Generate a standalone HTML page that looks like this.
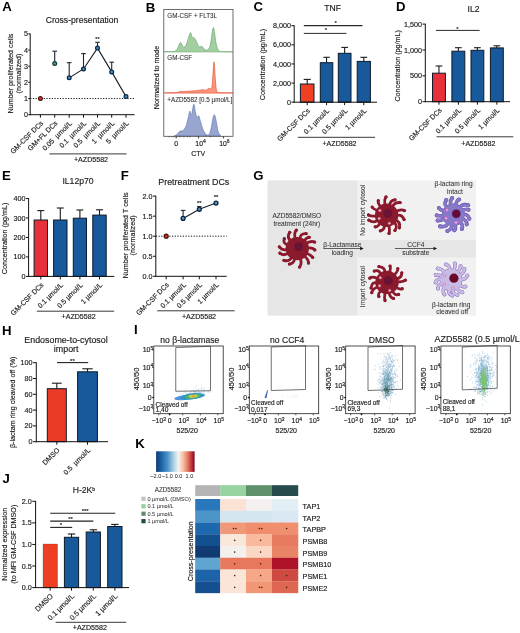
<!DOCTYPE html>
<html lang="en"><head><meta charset="utf-8"><title>Figure</title>
<style>
html,body{margin:0;padding:0;background:#fff;}
body{width:520px;height:633px;overflow:hidden;}
svg{display:block;font-family:"Liberation Sans",sans-serif;}
text{stroke:#1c1c1c;stroke-width:0.16px;paint-order:stroke;}
text[font-weight="bold"]{stroke:none;}
text.lt{stroke-width:0.06px;}
</style></head><body>
<svg width="520" height="633" viewBox="0 0 520 633">
<rect width="520" height="633" fill="#ffffff"/>
<g id="panelA">
<text x="2.20" y="11.20" font-size="13.2" text-anchor="start" font-weight="bold" fill="#000">A</text>
<text x="82.00" y="23.00" font-size="8.6" text-anchor="middle" fill="#1c1c1c">Cross-presentation</text>
<line x1="30.20" y1="33.50" x2="30.20" y2="115.15" stroke="#111" stroke-width="1.0"/>
<line x1="29.75" y1="114.70" x2="134.60" y2="114.70" stroke="#111" stroke-width="1.0"/>
<line x1="28.30" y1="114.70" x2="30.20" y2="114.70" stroke="#111" stroke-width="1.0"/>
<text x="28.10" y="117.25" font-size="7.2" text-anchor="end" fill="#1c1c1c">0</text>
<line x1="28.30" y1="98.54" x2="30.20" y2="98.54" stroke="#111" stroke-width="1.0"/>
<text x="28.10" y="101.09" font-size="7.2" text-anchor="end" fill="#1c1c1c">1</text>
<line x1="28.30" y1="82.38" x2="30.20" y2="82.38" stroke="#111" stroke-width="1.0"/>
<text x="28.10" y="84.93" font-size="7.2" text-anchor="end" fill="#1c1c1c">2</text>
<line x1="28.30" y1="66.22" x2="30.20" y2="66.22" stroke="#111" stroke-width="1.0"/>
<text x="28.10" y="68.77" font-size="7.2" text-anchor="end" fill="#1c1c1c">3</text>
<line x1="28.30" y1="50.06" x2="30.20" y2="50.06" stroke="#111" stroke-width="1.0"/>
<text x="28.10" y="52.61" font-size="7.2" text-anchor="end" fill="#1c1c1c">4</text>
<line x1="28.30" y1="33.90" x2="30.20" y2="33.90" stroke="#111" stroke-width="1.0"/>
<text x="28.10" y="36.45" font-size="7.2" text-anchor="end" fill="#1c1c1c">5</text>
<line x1="40.40" y1="114.70" x2="40.40" y2="117.70" stroke="#111" stroke-width="1.0"/>
<line x1="54.70" y1="114.70" x2="54.70" y2="117.70" stroke="#111" stroke-width="1.0"/>
<line x1="69.20" y1="114.70" x2="69.20" y2="117.70" stroke="#111" stroke-width="1.0"/>
<line x1="83.50" y1="114.70" x2="83.50" y2="117.70" stroke="#111" stroke-width="1.0"/>
<line x1="97.50" y1="114.70" x2="97.50" y2="117.70" stroke="#111" stroke-width="1.0"/>
<line x1="111.70" y1="114.70" x2="111.70" y2="117.70" stroke="#111" stroke-width="1.0"/>
<line x1="126.00" y1="114.70" x2="126.00" y2="117.70" stroke="#111" stroke-width="1.0"/>
<line x1="30.20" y1="98.54" x2="134.60" y2="98.54" stroke="#111" stroke-width="1.0" stroke-dasharray="1.2 1.5"/>
<line x1="54.70" y1="63.47" x2="54.70" y2="51.19" stroke="#1b2733" stroke-width="1.1"/>
<line x1="52.40" y1="51.19" x2="57.00" y2="51.19" stroke="#1b2733" stroke-width="1.1"/>
<line x1="69.20" y1="77.86" x2="69.20" y2="62.66" stroke="#1b2733" stroke-width="1.1"/>
<line x1="66.90" y1="62.66" x2="71.50" y2="62.66" stroke="#1b2733" stroke-width="1.1"/>
<line x1="83.50" y1="68.97" x2="83.50" y2="53.62" stroke="#1b2733" stroke-width="1.1"/>
<line x1="81.20" y1="53.62" x2="85.80" y2="53.62" stroke="#1b2733" stroke-width="1.1"/>
<line x1="97.50" y1="48.12" x2="97.50" y2="42.30" stroke="#1b2733" stroke-width="1.1"/>
<line x1="95.20" y1="42.30" x2="99.80" y2="42.30" stroke="#1b2733" stroke-width="1.1"/>
<line x1="111.70" y1="71.88" x2="111.70" y2="62.18" stroke="#1b2733" stroke-width="1.1"/>
<line x1="109.40" y1="62.18" x2="114.00" y2="62.18" stroke="#1b2733" stroke-width="1.1"/>
<polyline points="69.20,77.86 83.50,68.97 97.50,48.12 111.70,71.88 126.00,96.60" fill="none" stroke="#15202b" stroke-width="1.1"/>
<circle cx="40.40" cy="98.54" r="1.9" fill="#d8392b" stroke="#4a0f10" stroke-width="1.2"/>
<circle cx="54.70" cy="63.47" r="1.9" fill="#4aa888" stroke="#0f3a30" stroke-width="1.2"/>
<circle cx="69.20" cy="77.86" r="1.9" fill="#3a8fd0" stroke="#0c2238" stroke-width="1.2"/>
<circle cx="83.50" cy="68.97" r="1.9" fill="#3a8fd0" stroke="#0c2238" stroke-width="1.2"/>
<circle cx="97.50" cy="48.12" r="1.9" fill="#3a8fd0" stroke="#0c2238" stroke-width="1.2"/>
<circle cx="111.70" cy="71.88" r="1.9" fill="#3a8fd0" stroke="#0c2238" stroke-width="1.2"/>
<circle cx="126.00" cy="96.60" r="1.9" fill="#3a8fd0" stroke="#0c2238" stroke-width="1.2"/>
<text x="97.50" y="41.12" font-size="5.5" text-anchor="middle" fill="#1c1c1c">**</text>
<text x="43.70" y="123.70" font-size="7.0" text-anchor="end" fill="#1c1c1c" transform="rotate(-45 43.70 123.70)">GM-CSF DCs</text>
<text x="58.00" y="123.70" font-size="7.0" text-anchor="end" fill="#1c1c1c" transform="rotate(-45 58.00 123.70)">GM+FL DCs</text>
<text x="72.50" y="123.70" font-size="7.0" text-anchor="end" fill="#1c1c1c" transform="rotate(-45 72.50 123.70)">0.05  µmol/L</text>
<text x="86.80" y="123.70" font-size="7.0" text-anchor="end" fill="#1c1c1c" transform="rotate(-45 86.80 123.70)">0.1  µmol/L</text>
<text x="100.80" y="123.70" font-size="7.0" text-anchor="end" fill="#1c1c1c" transform="rotate(-45 100.80 123.70)">0.5  µmol/L</text>
<text x="115.00" y="123.70" font-size="7.0" text-anchor="end" fill="#1c1c1c" transform="rotate(-45 115.00 123.70)">1  µmol/L</text>
<text x="129.30" y="123.70" font-size="7.0" text-anchor="end" fill="#1c1c1c" transform="rotate(-45 129.30 123.70)">5  µmol/L</text>
<text x="13.00" y="73.50" font-size="7.2" text-anchor="middle" fill="#1c1c1c" transform="rotate(-90 13.00 73.50)">Number proliferated cells</text>
<text x="20.60" y="73.50" font-size="7.2" text-anchor="middle" fill="#1c1c1c" transform="rotate(-90 20.60 73.50)">(normalized)</text>
<line x1="49.40" y1="153.90" x2="126.60" y2="153.90" stroke="#222" stroke-width="0.9"/>
<text x="91.00" y="162.20" font-size="7.1" text-anchor="middle" fill="#1c1c1c">+AZD5582</text>
</g>
<g id="panelB">
<text x="145.70" y="11.50" font-size="13.2" text-anchor="start" font-weight="bold" fill="#000">B</text>
<path d="M164.50,51.80 L164.50,51.60 C166.08,51.57 171.92,51.75 174.00,51.40 C176.08,51.05 175.93,50.97 177.00,49.50 C178.07,48.03 179.32,42.98 180.40,42.60 C181.48,42.22 182.48,46.97 183.50,47.20 C184.52,47.43 185.37,46.40 186.50,44.00 C187.63,41.60 189.33,33.88 190.30,32.80 C191.27,31.72 191.65,36.67 192.30,37.50 C192.95,38.33 193.50,37.13 194.20,37.80 C194.90,38.47 195.70,40.00 196.50,41.50 C197.30,43.00 198.12,45.98 199.00,46.80 C199.88,47.62 200.88,46.00 201.80,46.40 C202.72,46.80 203.55,48.60 204.50,49.20 C205.45,49.80 206.53,50.70 207.50,50.00 C208.47,49.30 209.32,48.73 210.30,45.00 C211.28,41.27 212.42,27.77 213.40,27.60 C214.38,27.43 215.30,40.17 216.20,44.00 C217.10,47.83 217.67,49.33 218.80,50.60 C219.93,51.80 220.67,51.42 223.00,51.60 C225.33,51.78 231.17,51.68 232.80,51.70 L232.80,51.80 Z" fill="#a3cfa0" stroke="#5f9f68" stroke-width="0.6"/>
<path d="M164.50,93.00 L164.50,92.80 C166.42,92.77 173.42,92.80 176.00,92.60 C178.58,92.40 178.33,91.80 180.00,91.60 C181.67,91.40 184.00,91.50 186.00,91.40 C188.00,91.30 190.00,91.17 192.00,91.00 C194.00,90.83 196.17,90.60 198.00,90.40 C199.83,90.20 201.67,89.83 203.00,89.80 C204.33,89.77 205.00,90.47 206.00,90.20 C207.00,89.93 208.08,88.47 209.00,88.20 C209.92,87.93 210.90,89.97 211.50,88.60 C212.10,87.23 212.18,84.47 212.60,80.00 C213.02,75.53 213.53,61.80 214.00,61.80 C214.47,61.80 214.97,75.22 215.40,80.00 C215.83,84.78 216.00,88.40 216.60,90.50 C217.20,92.60 216.30,92.22 219.00,92.60 C221.70,92.98 230.50,92.77 232.80,92.80 L232.80,93.00 Z" fill="#f7977a" stroke="#e8452f" stroke-width="0.6"/>
<path d="M174.50,136.00 L174.50,135.80 C174.92,135.60 176.17,135.32 177.00,134.60 C177.83,133.88 178.50,132.17 179.50,131.50 C180.50,130.83 181.92,131.52 183.00,130.60 C184.08,129.68 185.13,128.10 186.00,126.00 C186.87,123.90 187.57,120.47 188.20,118.00 C188.83,115.53 189.23,111.78 189.80,111.20 C190.37,110.62 190.93,115.67 191.60,114.50 C192.27,113.33 193.13,104.45 193.80,104.20 C194.47,103.95 195.03,110.80 195.60,113.00 C196.17,115.20 196.67,116.93 197.20,117.40 C197.73,117.87 198.23,115.03 198.80,115.80 C199.37,116.57 199.90,119.72 200.60,122.00 C201.30,124.28 202.10,127.47 203.00,129.50 C203.90,131.53 205.00,133.35 206.00,134.20 C207.00,135.05 208.13,135.63 209.00,134.60 C209.87,133.57 210.53,130.77 211.20,128.00 C211.87,125.23 212.47,120.20 213.00,118.00 C213.53,115.80 213.90,114.47 214.40,114.80 C214.90,115.13 215.40,117.30 216.00,120.00 C216.60,122.70 217.25,128.40 218.00,131.00 C218.75,133.60 220.08,134.83 220.50,135.60 L220.50,136.00 Z" fill="#97a5cf" stroke="#5c70b0" stroke-width="0.6"/>
<line x1="163.80" y1="51.80" x2="233.00" y2="51.80" stroke="#9ac89a" stroke-width="0.6"/>
<line x1="163.80" y1="93.00" x2="233.00" y2="93.00" stroke="#f0907a" stroke-width="0.6"/>
<rect x="163.80" y="9.50" width="69.20" height="126.80" fill="none" stroke="#4a4a4a" stroke-width="0.8"/>
<text x="167.30" y="18.00" font-size="6.3" text-anchor="start" fill="#2a2a2a" class="lt">GM-CSF + FLT3L</text>
<text x="167.30" y="60.20" font-size="6.3" text-anchor="start" fill="#2a2a2a" class="lt">GM-CSF</text>
<text x="167.30" y="102.40" font-size="6.3" text-anchor="start" fill="#2a2a2a" class="lt">+AZD5582 [0.5 µmol/L]</text>
<line x1="176.20" y1="136.30" x2="176.20" y2="138.50" stroke="#111" stroke-width="0.8"/>
<line x1="198.60" y1="136.30" x2="198.60" y2="138.50" stroke="#111" stroke-width="0.8"/>
<line x1="223.40" y1="136.30" x2="223.40" y2="138.50" stroke="#111" stroke-width="0.8"/>
<line x1="169.00" y1="136.30" x2="169.00" y2="137.40" stroke="#111" stroke-width="0.5"/>
<line x1="172.00" y1="136.30" x2="172.00" y2="137.40" stroke="#111" stroke-width="0.5"/>
<line x1="174.00" y1="136.30" x2="174.00" y2="137.40" stroke="#111" stroke-width="0.5"/>
<line x1="180.00" y1="136.30" x2="180.00" y2="137.40" stroke="#111" stroke-width="0.5"/>
<line x1="184.00" y1="136.30" x2="184.00" y2="137.40" stroke="#111" stroke-width="0.5"/>
<line x1="187.50" y1="136.30" x2="187.50" y2="137.40" stroke="#111" stroke-width="0.5"/>
<line x1="190.00" y1="136.30" x2="190.00" y2="137.40" stroke="#111" stroke-width="0.5"/>
<line x1="210.50" y1="136.30" x2="210.50" y2="137.40" stroke="#111" stroke-width="0.5"/>
<text x="176.20" y="145.80" font-size="6.9" text-anchor="middle" fill="#1c1c1c">0</text>
<text x="200.6" y="145.8" font-size="6.9" text-anchor="middle" fill="#1c1c1c">10<tspan dy="-2.7" font-size="5.0">4</tspan></text>
<text x="224.4" y="145.8" font-size="6.9" text-anchor="middle" fill="#1c1c1c">10<tspan dy="-2.7" font-size="5.0">6</tspan></text>
<text x="198.20" y="156.00" font-size="7.0" text-anchor="middle" fill="#1c1c1c">CTV</text>
<text x="159.40" y="77.50" font-size="7.1" text-anchor="middle" fill="#1c1c1c" transform="rotate(-90 159.40 77.50)">Normalized to mode</text>
</g>
<g id="panelC">
<text x="253.60" y="11.00" font-size="13.2" text-anchor="start" font-weight="bold" fill="#000">C</text>
<text x="332.60" y="11.30" font-size="8.6" text-anchor="middle" fill="#1c1c1c">TNF</text>
<line x1="307.20" y1="84.00" x2="307.20" y2="79.40" stroke="#1a1a1a" stroke-width="1.1"/>
<line x1="303.66" y1="79.40" x2="310.74" y2="79.40" stroke="#1a1a1a" stroke-width="1.1"/>
<rect x="300.40" y="84.00" width="13.60" height="18.20" fill="#ef4023" stroke="#0c1a2a" stroke-width="1.0"/>
<line x1="326.55" y1="62.70" x2="326.55" y2="57.30" stroke="#1a1a1a" stroke-width="1.1"/>
<line x1="323.30" y1="57.30" x2="329.80" y2="57.30" stroke="#1a1a1a" stroke-width="1.1"/>
<rect x="320.30" y="62.70" width="12.50" height="39.50" fill="#17599b" stroke="#0c1a2a" stroke-width="1.0"/>
<line x1="344.65" y1="53.30" x2="344.65" y2="47.40" stroke="#1a1a1a" stroke-width="1.1"/>
<line x1="341.35" y1="47.40" x2="347.95" y2="47.40" stroke="#1a1a1a" stroke-width="1.1"/>
<rect x="338.30" y="53.30" width="12.70" height="48.90" fill="#17599b" stroke="#0c1a2a" stroke-width="1.0"/>
<line x1="363.80" y1="61.40" x2="363.80" y2="57.30" stroke="#1a1a1a" stroke-width="1.1"/>
<line x1="360.37" y1="57.30" x2="367.23" y2="57.30" stroke="#1a1a1a" stroke-width="1.1"/>
<rect x="357.20" y="61.40" width="13.20" height="40.80" fill="#17599b" stroke="#0c1a2a" stroke-width="1.0"/>
<line x1="294.20" y1="25.30" x2="294.20" y2="102.65" stroke="#111" stroke-width="1.0"/>
<line x1="293.75" y1="102.20" x2="377.00" y2="102.20" stroke="#111" stroke-width="1.0"/>
<line x1="291.40" y1="102.20" x2="294.20" y2="102.20" stroke="#111" stroke-width="1.0"/>
<text x="290.90" y="104.75" font-size="7.2" text-anchor="end" fill="#1c1c1c">0</text>
<line x1="291.40" y1="83.08" x2="294.20" y2="83.08" stroke="#111" stroke-width="1.0"/>
<text x="290.90" y="85.62" font-size="7.2" text-anchor="end" fill="#1c1c1c">2,000</text>
<line x1="291.40" y1="63.95" x2="294.20" y2="63.95" stroke="#111" stroke-width="1.0"/>
<text x="290.90" y="66.50" font-size="7.2" text-anchor="end" fill="#1c1c1c">4,000</text>
<line x1="291.40" y1="44.83" x2="294.20" y2="44.83" stroke="#111" stroke-width="1.0"/>
<text x="290.90" y="47.38" font-size="7.2" text-anchor="end" fill="#1c1c1c">6,000</text>
<line x1="291.40" y1="25.70" x2="294.20" y2="25.70" stroke="#111" stroke-width="1.0"/>
<text x="290.90" y="28.25" font-size="7.2" text-anchor="end" fill="#1c1c1c">8,000</text>
<line x1="307.20" y1="102.20" x2="307.20" y2="105.20" stroke="#111" stroke-width="1.0"/>
<line x1="326.55" y1="102.20" x2="326.55" y2="105.20" stroke="#111" stroke-width="1.0"/>
<line x1="344.65" y1="102.20" x2="344.65" y2="105.20" stroke="#111" stroke-width="1.0"/>
<line x1="363.80" y1="102.20" x2="363.80" y2="105.20" stroke="#111" stroke-width="1.0"/>
<line x1="303.80" y1="25.70" x2="362.50" y2="25.70" stroke="#2a2a2a" stroke-width="1.3"/>
<line x1="303.80" y1="33.40" x2="346.40" y2="33.40" stroke="#2a2a2a" stroke-width="1.0"/>
<text x="335.60" y="24.80" font-size="6.0" text-anchor="middle" fill="#1c1c1c">*</text>
<text x="326.00" y="32.40" font-size="6.0" text-anchor="middle" fill="#1c1c1c">*</text>
<text x="310.50" y="111.20" font-size="7.0" text-anchor="end" fill="#1c1c1c" transform="rotate(-45 310.50 111.20)">GM-CSF DCs</text>
<text x="329.85" y="111.20" font-size="7.0" text-anchor="end" fill="#1c1c1c" transform="rotate(-45 329.85 111.20)">0.1 µmol/L</text>
<text x="347.95" y="111.20" font-size="7.0" text-anchor="end" fill="#1c1c1c" transform="rotate(-45 347.95 111.20)">0.5 µmol/L</text>
<text x="367.10" y="111.20" font-size="7.0" text-anchor="end" fill="#1c1c1c" transform="rotate(-45 367.10 111.20)">1 µmol/L</text>
<text x="265.00" y="64.50" font-size="7.2" text-anchor="middle" fill="#1c1c1c" transform="rotate(-90 265.00 64.50)">Concentration (pg/mL)</text>
<line x1="297.80" y1="137.30" x2="375.00" y2="137.30" stroke="#222" stroke-width="0.9"/>
<text x="339.50" y="146.00" font-size="7.1" text-anchor="middle" fill="#1c1c1c">+AZD5582</text>
</g>
<g id="panelD">
<text x="396.00" y="11.00" font-size="13.2" text-anchor="start" font-weight="bold" fill="#000">D</text>
<text x="473.60" y="11.80" font-size="8.6" text-anchor="middle" fill="#1c1c1c">IL2</text>
<line x1="438.95" y1="73.20" x2="438.95" y2="66.00" stroke="#1a1a1a" stroke-width="1.1"/>
<line x1="435.60" y1="66.00" x2="442.30" y2="66.00" stroke="#1a1a1a" stroke-width="1.1"/>
<rect x="432.50" y="73.20" width="12.90" height="28.50" fill="#e8303a" stroke="#0c1a2a" stroke-width="1.0"/>
<line x1="458.35" y1="51.20" x2="458.35" y2="47.70" stroke="#1a1a1a" stroke-width="1.1"/>
<line x1="455.00" y1="47.70" x2="461.70" y2="47.70" stroke="#1a1a1a" stroke-width="1.1"/>
<rect x="451.90" y="51.20" width="12.90" height="50.50" fill="#17599b" stroke="#0c1a2a" stroke-width="1.0"/>
<line x1="477.40" y1="50.30" x2="477.40" y2="47.70" stroke="#1a1a1a" stroke-width="1.1"/>
<line x1="474.07" y1="47.70" x2="480.73" y2="47.70" stroke="#1a1a1a" stroke-width="1.1"/>
<rect x="471.00" y="50.30" width="12.80" height="51.40" fill="#17599b" stroke="#0c1a2a" stroke-width="1.0"/>
<line x1="496.85" y1="47.90" x2="496.85" y2="45.80" stroke="#1a1a1a" stroke-width="1.1"/>
<line x1="493.50" y1="45.80" x2="500.20" y2="45.80" stroke="#1a1a1a" stroke-width="1.1"/>
<rect x="490.40" y="47.90" width="12.90" height="53.80" fill="#17599b" stroke="#0c1a2a" stroke-width="1.0"/>
<line x1="425.30" y1="23.70" x2="425.30" y2="102.15" stroke="#111" stroke-width="1.0"/>
<line x1="424.85" y1="101.70" x2="510.00" y2="101.70" stroke="#111" stroke-width="1.0"/>
<line x1="422.50" y1="101.70" x2="425.30" y2="101.70" stroke="#111" stroke-width="1.0"/>
<text x="422.00" y="104.25" font-size="7.2" text-anchor="end" fill="#1c1c1c">0</text>
<line x1="422.50" y1="75.83" x2="425.30" y2="75.83" stroke="#111" stroke-width="1.0"/>
<text x="422.00" y="78.38" font-size="7.2" text-anchor="end" fill="#1c1c1c">500</text>
<line x1="422.50" y1="49.97" x2="425.30" y2="49.97" stroke="#111" stroke-width="1.0"/>
<text x="422.00" y="52.52" font-size="7.2" text-anchor="end" fill="#1c1c1c">1,000</text>
<line x1="422.50" y1="24.10" x2="425.30" y2="24.10" stroke="#111" stroke-width="1.0"/>
<text x="422.00" y="26.65" font-size="7.2" text-anchor="end" fill="#1c1c1c">1,500</text>
<line x1="438.95" y1="101.70" x2="438.95" y2="104.70" stroke="#111" stroke-width="1.0"/>
<line x1="458.35" y1="101.70" x2="458.35" y2="104.70" stroke="#111" stroke-width="1.0"/>
<line x1="477.40" y1="101.70" x2="477.40" y2="104.70" stroke="#111" stroke-width="1.0"/>
<line x1="496.85" y1="101.70" x2="496.85" y2="104.70" stroke="#111" stroke-width="1.0"/>
<line x1="436.00" y1="30.40" x2="479.60" y2="30.40" stroke="#2a2a2a" stroke-width="1.0"/>
<text x="457.50" y="31.40" font-size="6.0" text-anchor="middle" fill="#1c1c1c">*</text>
<text x="442.25" y="110.70" font-size="7.0" text-anchor="end" fill="#1c1c1c" transform="rotate(-45 442.25 110.70)">GM-CSF DCs</text>
<text x="461.65" y="110.70" font-size="7.0" text-anchor="end" fill="#1c1c1c" transform="rotate(-45 461.65 110.70)">0.1 µmol/L</text>
<text x="480.70" y="110.70" font-size="7.0" text-anchor="end" fill="#1c1c1c" transform="rotate(-45 480.70 110.70)">0.5 µmol/L</text>
<text x="500.15" y="110.70" font-size="7.0" text-anchor="end" fill="#1c1c1c" transform="rotate(-45 500.15 110.70)">1 µmol/L</text>
<text x="400.00" y="65.80" font-size="7.2" text-anchor="middle" fill="#1c1c1c" transform="rotate(-90 400.00 65.80)">Concentration (pg/mL)</text>
<line x1="436.50" y1="136.80" x2="513.30" y2="136.80" stroke="#222" stroke-width="0.9"/>
<text x="478.30" y="145.50" font-size="7.1" text-anchor="middle" fill="#1c1c1c">+AZD5582</text>
</g>
<g id="panelE">
<text x="2.00" y="180.40" font-size="13.2" text-anchor="start" font-weight="bold" fill="#000">E</text>
<text x="78.00" y="184.40" font-size="8.6" text-anchor="middle" fill="#1c1c1c">IL12p70</text>
<line x1="40.80" y1="220.00" x2="40.80" y2="210.60" stroke="#1a1a1a" stroke-width="1.1"/>
<line x1="37.32" y1="210.60" x2="44.28" y2="210.60" stroke="#1a1a1a" stroke-width="1.1"/>
<rect x="34.10" y="220.00" width="13.40" height="56.40" fill="#e8303a" stroke="#0c1a2a" stroke-width="1.0"/>
<line x1="60.30" y1="220.00" x2="60.30" y2="208.00" stroke="#1a1a1a" stroke-width="1.1"/>
<line x1="56.82" y1="208.00" x2="63.78" y2="208.00" stroke="#1a1a1a" stroke-width="1.1"/>
<rect x="53.60" y="220.00" width="13.40" height="56.40" fill="#17599b" stroke="#0c1a2a" stroke-width="1.0"/>
<line x1="79.90" y1="218.20" x2="79.90" y2="210.00" stroke="#1a1a1a" stroke-width="1.1"/>
<line x1="76.47" y1="210.00" x2="83.33" y2="210.00" stroke="#1a1a1a" stroke-width="1.1"/>
<rect x="73.30" y="218.20" width="13.20" height="58.20" fill="#17599b" stroke="#0c1a2a" stroke-width="1.0"/>
<line x1="99.50" y1="215.10" x2="99.50" y2="209.80" stroke="#1a1a1a" stroke-width="1.1"/>
<line x1="96.02" y1="209.80" x2="102.98" y2="209.80" stroke="#1a1a1a" stroke-width="1.1"/>
<rect x="92.80" y="215.10" width="13.40" height="61.30" fill="#17599b" stroke="#0c1a2a" stroke-width="1.0"/>
<line x1="28.60" y1="198.10" x2="28.60" y2="276.85" stroke="#111" stroke-width="1.0"/>
<line x1="28.15" y1="276.40" x2="114.30" y2="276.40" stroke="#111" stroke-width="1.0"/>
<line x1="26.00" y1="276.40" x2="28.60" y2="276.40" stroke="#111" stroke-width="1.0"/>
<text x="25.40" y="278.95" font-size="7.2" text-anchor="end" fill="#1c1c1c">0</text>
<line x1="26.00" y1="256.92" x2="28.60" y2="256.92" stroke="#111" stroke-width="1.0"/>
<text x="25.40" y="259.47" font-size="7.2" text-anchor="end" fill="#1c1c1c">100</text>
<line x1="26.00" y1="237.45" x2="28.60" y2="237.45" stroke="#111" stroke-width="1.0"/>
<text x="25.40" y="240.00" font-size="7.2" text-anchor="end" fill="#1c1c1c">200</text>
<line x1="26.00" y1="217.97" x2="28.60" y2="217.97" stroke="#111" stroke-width="1.0"/>
<text x="25.40" y="220.53" font-size="7.2" text-anchor="end" fill="#1c1c1c">300</text>
<line x1="26.00" y1="198.50" x2="28.60" y2="198.50" stroke="#111" stroke-width="1.0"/>
<text x="25.40" y="201.05" font-size="7.2" text-anchor="end" fill="#1c1c1c">400</text>
<line x1="40.80" y1="276.40" x2="40.80" y2="279.40" stroke="#111" stroke-width="1.0"/>
<line x1="60.30" y1="276.40" x2="60.30" y2="279.40" stroke="#111" stroke-width="1.0"/>
<line x1="79.90" y1="276.40" x2="79.90" y2="279.40" stroke="#111" stroke-width="1.0"/>
<line x1="99.50" y1="276.40" x2="99.50" y2="279.40" stroke="#111" stroke-width="1.0"/>
<text x="44.10" y="285.40" font-size="7.0" text-anchor="end" fill="#1c1c1c" transform="rotate(-45 44.10 285.40)">GM-CSF DCs</text>
<text x="63.60" y="285.40" font-size="7.0" text-anchor="end" fill="#1c1c1c" transform="rotate(-45 63.60 285.40)">0.1 µmol/L</text>
<text x="83.20" y="285.40" font-size="7.0" text-anchor="end" fill="#1c1c1c" transform="rotate(-45 83.20 285.40)">0.5 µmol/L</text>
<text x="102.80" y="285.40" font-size="7.0" text-anchor="end" fill="#1c1c1c" transform="rotate(-45 102.80 285.40)">1 µmol/L</text>
<text x="7.40" y="238.40" font-size="7.2" text-anchor="middle" fill="#1c1c1c" transform="rotate(-90 7.40 238.40)">Concentration (pg/mL)</text>
<line x1="36.80" y1="311.20" x2="114.20" y2="311.20" stroke="#222" stroke-width="0.9"/>
<text x="78.60" y="318.60" font-size="7.1" text-anchor="middle" fill="#1c1c1c">+AZD5582</text>
</g>
<g id="panelF">
<text x="120.80" y="180.30" font-size="13.2" text-anchor="start" font-weight="bold" fill="#000">F</text>
<text x="193.80" y="185.00" font-size="8.9" text-anchor="middle" fill="#1c1c1c">Pretreatment DCs</text>
<line x1="155.80" y1="195.70" x2="155.80" y2="276.75" stroke="#111" stroke-width="1.0"/>
<line x1="155.35" y1="276.30" x2="226.70" y2="276.30" stroke="#111" stroke-width="1.0"/>
<line x1="153.00" y1="276.30" x2="155.80" y2="276.30" stroke="#111" stroke-width="1.0"/>
<text x="152.50" y="278.85" font-size="7.2" text-anchor="end" fill="#1c1c1c">0.0</text>
<line x1="153.00" y1="256.25" x2="155.80" y2="256.25" stroke="#111" stroke-width="1.0"/>
<text x="152.50" y="258.80" font-size="7.2" text-anchor="end" fill="#1c1c1c">0.5</text>
<line x1="153.00" y1="236.20" x2="155.80" y2="236.20" stroke="#111" stroke-width="1.0"/>
<text x="152.50" y="238.75" font-size="7.2" text-anchor="end" fill="#1c1c1c">1.0</text>
<line x1="153.00" y1="216.15" x2="155.80" y2="216.15" stroke="#111" stroke-width="1.0"/>
<text x="152.50" y="218.70" font-size="7.2" text-anchor="end" fill="#1c1c1c">1.5</text>
<line x1="153.00" y1="196.10" x2="155.80" y2="196.10" stroke="#111" stroke-width="1.0"/>
<text x="152.50" y="198.65" font-size="7.2" text-anchor="end" fill="#1c1c1c">2.0</text>
<line x1="166.20" y1="276.30" x2="166.20" y2="279.30" stroke="#111" stroke-width="1.0"/>
<line x1="183.10" y1="276.30" x2="183.10" y2="279.30" stroke="#111" stroke-width="1.0"/>
<line x1="199.30" y1="276.30" x2="199.30" y2="279.30" stroke="#111" stroke-width="1.0"/>
<line x1="216.00" y1="276.30" x2="216.00" y2="279.30" stroke="#111" stroke-width="1.0"/>
<line x1="155.80" y1="236.20" x2="226.70" y2="236.20" stroke="#111" stroke-width="1.0" stroke-dasharray="1.2 1.5"/>
<line x1="183.10" y1="218.40" x2="183.10" y2="210.40" stroke="#1b2733" stroke-width="1.1"/>
<line x1="180.80" y1="210.40" x2="185.40" y2="210.40" stroke="#1b2733" stroke-width="1.1"/>
<line x1="199.30" y1="209.30" x2="199.30" y2="206.60" stroke="#1b2733" stroke-width="1.1"/>
<line x1="197.00" y1="206.60" x2="201.60" y2="206.60" stroke="#1b2733" stroke-width="1.1"/>
<polyline points="183.10,218.40 199.30,209.30 216.00,203.10" fill="none" stroke="#15202b" stroke-width="1.1"/>
<circle cx="166.20" cy="236.20" r="1.95" fill="#d8392b" stroke="#4a0f10" stroke-width="1.3"/>
<circle cx="183.10" cy="218.40" r="1.95" fill="#4a98d4" stroke="#0c2238" stroke-width="1.3"/>
<circle cx="199.30" cy="209.30" r="1.95" fill="#4a98d4" stroke="#0c2238" stroke-width="1.3"/>
<circle cx="216.00" cy="203.10" r="1.95" fill="#4a98d4" stroke="#0c2238" stroke-width="1.3"/>
<text x="199.30" y="204.80" font-size="6.0" text-anchor="middle" fill="#1c1c1c">**</text>
<text x="216.00" y="198.60" font-size="6.0" text-anchor="middle" fill="#1c1c1c">**</text>
<text x="169.50" y="285.30" font-size="7.0" text-anchor="end" fill="#1c1c1c" transform="rotate(-45 169.50 285.30)">GM-CSF DCs</text>
<text x="186.40" y="285.30" font-size="7.0" text-anchor="end" fill="#1c1c1c" transform="rotate(-45 186.40 285.30)">0.1 µmol/L</text>
<text x="202.60" y="285.30" font-size="7.0" text-anchor="end" fill="#1c1c1c" transform="rotate(-45 202.60 285.30)">0.5 µmol/L</text>
<text x="219.30" y="285.30" font-size="7.0" text-anchor="end" fill="#1c1c1c" transform="rotate(-45 219.30 285.30)">1 µmol/L</text>
<text x="127.60" y="235.40" font-size="7.2" text-anchor="middle" fill="#1c1c1c" transform="rotate(-90 127.60 235.40)">Number proliferated T cells</text>
<text x="135.30" y="235.40" font-size="7.2" text-anchor="middle" fill="#1c1c1c" transform="rotate(-90 135.30 235.40)">(normalized)</text>
<line x1="157.20" y1="310.80" x2="234.60" y2="310.80" stroke="#222" stroke-width="0.9"/>
<text x="199.00" y="319.00" font-size="7.1" text-anchor="middle" fill="#1c1c1c">+AZD5582</text>
</g>
<g id="panelG">
<text x="253.20" y="179.60" font-size="13.2" text-anchor="start" font-weight="bold" fill="#000">G</text>
<rect x="267.50" y="180.40" width="90.20" height="135.20" fill="#e6e6e6"/>
<rect x="357.60" y="180.40" width="118.30" height="135.20" fill="#f1f1f2"/>
<rect x="357.60" y="240.00" width="118.30" height="17.40" fill="#e6e6e6"/>
<g><path d="M306.49,248.17 Q312.69,246.91 314.79,249.97 M305.51,252.75 Q311.31,255.19 312.67,257.45 M303.64,255.26 Q308.52,259.27 308.50,263.00 M299.77,257.46 Q302.55,263.16 299.60,267.08 M294.71,257.43 Q294.35,263.80 289.40,264.08 M292.03,256.14 Q290.01,262.25 283.96,260.32 M288.99,252.56 Q284.04,256.58 279.85,253.06 M288.13,249.32 Q282.03,251.16 279.33,246.84 M288.87,244.91 Q282.48,244.12 284.34,238.70 M291.53,241.44 Q286.20,237.81 289.72,232.32 M295.60,239.56 Q293.45,233.61 296.29,230.19 M299.83,239.75 Q299.63,233.30 306.10,233.71 M303.51,241.81 Q307.34,236.82 309.26,237.28 M305.37,244.19 Q310.33,240.25 314.66,242.08" fill="none" stroke="#8b1a2d" stroke-width="2.8" stroke-linecap="round"/><circle cx="314.79" cy="249.97" r="1.65" fill="#8b1a2d"/><circle cx="312.67" cy="257.45" r="1.65" fill="#8b1a2d"/><circle cx="308.50" cy="263.00" r="1.65" fill="#8b1a2d"/><circle cx="299.60" cy="267.08" r="1.65" fill="#8b1a2d"/><circle cx="289.40" cy="264.08" r="1.65" fill="#8b1a2d"/><circle cx="283.96" cy="260.32" r="1.65" fill="#8b1a2d"/><circle cx="279.85" cy="253.06" r="1.65" fill="#8b1a2d"/><circle cx="279.33" cy="246.84" r="1.65" fill="#8b1a2d"/><circle cx="284.34" cy="238.70" r="1.65" fill="#8b1a2d"/><circle cx="289.72" cy="232.32" r="1.65" fill="#8b1a2d"/><circle cx="296.29" cy="230.19" r="1.65" fill="#8b1a2d"/><circle cx="306.10" cy="233.71" r="1.65" fill="#8b1a2d"/><circle cx="309.26" cy="237.28" r="1.65" fill="#8b1a2d"/><circle cx="314.66" cy="242.08" r="1.65" fill="#8b1a2d"/><circle cx="297.30" cy="248.60" r="11.7" fill="#8b1a2d"/><circle cx="298.60" cy="246.80" r="4.5" fill="#6b1334"/></g>
<text x="296.80" y="218.20" font-size="6.5" text-anchor="middle" fill="#333" class="lt">AZD5582/DMSO</text>
<text x="296.80" y="226.20" font-size="6.5" text-anchor="middle" fill="#333" class="lt">treatment (24hr)</text>
<text x="342.30" y="247.00" font-size="6.6" text-anchor="middle" fill="#333" class="lt">β-Lactamase</text>
<line x1="323.80" y1="248.50" x2="361.60" y2="248.50" stroke="#222" stroke-width="0.7"/>
<path d="M363.60,248.50 L360.20,246.70 L360.20,250.30 Z" fill="#111"/>
<text x="342.30" y="255.20" font-size="6.6" text-anchor="middle" fill="#333" class="lt">loading</text>
<text x="364.90" y="210.20" font-size="6.6" text-anchor="middle" fill="#333" transform="rotate(-90 364.90 210.20)" class="lt">No import cytosol</text>
<text x="364.90" y="286.60" font-size="6.6" text-anchor="middle" fill="#333" transform="rotate(-90 364.90 286.60)" class="lt">Import cytosol</text>
<g><path d="M395.80,215.40 Q402.02,213.82 404.07,219.57 M394.55,219.84 Q400.84,221.26 399.39,227.87 M392.92,221.88 Q398.59,224.99 394.93,230.42 M388.41,224.22 Q390.14,230.27 389.01,233.43 M384.60,224.18 Q384.50,230.54 380.30,230.80 M380.77,222.32 Q377.34,227.60 375.20,226.81 M378.48,219.52 Q373.79,223.90 368.85,220.16 M377.42,215.76 Q371.19,216.70 368.46,215.01 M378.40,211.03 Q372.66,208.47 372.17,207.12 M381.36,207.64 Q377.22,202.89 378.33,200.65 M385.34,206.09 Q383.66,200.00 386.03,196.88 M389.38,206.43 Q389.82,200.06 395.05,199.85 M391.95,207.71 Q394.30,201.77 400.10,202.57 M395.19,211.92 Q400.74,208.90 404.38,210.55" fill="none" stroke="#8b1a2d" stroke-width="2.8" stroke-linecap="round"/><circle cx="404.07" cy="219.57" r="1.65" fill="#8b1a2d"/><circle cx="399.39" cy="227.87" r="1.65" fill="#8b1a2d"/><circle cx="394.93" cy="230.42" r="1.65" fill="#8b1a2d"/><circle cx="389.01" cy="233.43" r="1.65" fill="#8b1a2d"/><circle cx="380.30" cy="230.80" r="1.65" fill="#8b1a2d"/><circle cx="375.20" cy="226.81" r="1.65" fill="#8b1a2d"/><circle cx="368.85" cy="220.16" r="1.65" fill="#8b1a2d"/><circle cx="368.46" cy="215.01" r="1.65" fill="#8b1a2d"/><circle cx="372.17" cy="207.12" r="1.65" fill="#8b1a2d"/><circle cx="378.33" cy="200.65" r="1.65" fill="#8b1a2d"/><circle cx="386.03" cy="196.88" r="1.65" fill="#8b1a2d"/><circle cx="395.05" cy="199.85" r="1.65" fill="#8b1a2d"/><circle cx="400.10" cy="202.57" r="1.65" fill="#8b1a2d"/><circle cx="404.38" cy="210.55" r="1.65" fill="#8b1a2d"/><circle cx="386.60" cy="215.20" r="11.7" fill="#8b1a2d"/><circle cx="387.90" cy="213.40" r="4.5" fill="#6b1334"/><circle cx="379.90" cy="210.50" r="1.25" fill="#f6c8d4" stroke="#c05a78" stroke-width="0.6"/><circle cx="379.20" cy="218.60" r="1.25" fill="#f6c8d4" stroke="#c05a78" stroke-width="0.6"/><circle cx="389.30" cy="223.30" r="1.25" fill="#f6c8d4" stroke="#c05a78" stroke-width="0.6"/></g>
<g><path d="M396.19,281.95 Q402.48,282.17 405.41,280.21 M395.14,286.69 Q400.32,290.28 402.21,288.63 M392.07,290.08 Q394.28,296.06 398.66,294.40 M389.11,291.35 Q389.39,297.69 393.51,298.45 M385.45,291.47 Q383.94,297.57 385.03,300.52 M381.61,289.86 Q377.31,294.48 378.85,296.50 M378.78,286.53 Q372.75,288.45 371.74,292.67 M377.82,283.04 Q371.55,281.40 371.10,287.98 M378.42,279.07 Q372.95,275.90 369.80,278.13 M381.47,275.04 Q378.98,269.16 374.27,271.06 M384.95,273.43 Q385.44,267.00 378.91,266.56 M389.18,273.46 Q391.08,267.47 390.04,266.10 M393.29,275.69 Q398.06,271.57 397.79,268.75 M395.58,279.09 Q401.94,278.35 401.78,272.80" fill="none" stroke="#8b1a2d" stroke-width="2.8" stroke-linecap="round"/><circle cx="405.41" cy="280.21" r="1.65" fill="#8b1a2d"/><circle cx="402.21" cy="288.63" r="1.65" fill="#8b1a2d"/><circle cx="398.66" cy="294.40" r="1.65" fill="#8b1a2d"/><circle cx="393.51" cy="298.45" r="1.65" fill="#8b1a2d"/><circle cx="385.03" cy="300.52" r="1.65" fill="#8b1a2d"/><circle cx="378.85" cy="296.50" r="1.65" fill="#8b1a2d"/><circle cx="371.74" cy="292.67" r="1.65" fill="#8b1a2d"/><circle cx="371.10" cy="287.98" r="1.65" fill="#8b1a2d"/><circle cx="369.80" cy="278.13" r="1.65" fill="#8b1a2d"/><circle cx="374.27" cy="271.06" r="1.65" fill="#8b1a2d"/><circle cx="378.91" cy="266.56" r="1.65" fill="#8b1a2d"/><circle cx="390.04" cy="266.10" r="1.65" fill="#8b1a2d"/><circle cx="397.79" cy="268.75" r="1.65" fill="#8b1a2d"/><circle cx="401.78" cy="272.80" r="1.65" fill="#8b1a2d"/><circle cx="387.00" cy="282.40" r="11.7" fill="#8b1a2d"/><circle cx="388.30" cy="280.60" r="4.5" fill="#6b1334"/><circle cx="380.30" cy="277.70" r="1.25" fill="#f6c8d4" stroke="#c05a78" stroke-width="0.6"/><circle cx="379.60" cy="285.80" r="1.25" fill="#f6c8d4" stroke="#c05a78" stroke-width="0.6"/><circle cx="389.70" cy="290.50" r="1.25" fill="#f6c8d4" stroke="#c05a78" stroke-width="0.6"/></g>
<text x="415.80" y="247.00" font-size="6.6" text-anchor="middle" fill="#333" class="lt">CCF4</text>
<line x1="394.90" y1="248.50" x2="435.00" y2="248.50" stroke="#222" stroke-width="0.7"/>
<path d="M437.00,248.50 L433.60,246.70 L433.60,250.30 Z" fill="#111"/>
<text x="415.80" y="255.20" font-size="6.6" text-anchor="middle" fill="#333" class="lt">substrate</text>
<g><path d="M461.60,214.73 Q467.69,212.85 469.39,218.81 M460.80,218.35 Q466.91,219.85 466.72,224.33 M458.83,220.99 Q463.94,224.68 461.84,228.88 M454.72,222.98 Q456.56,228.95 454.26,230.26 M452.05,223.01 Q452.56,229.30 447.41,230.93 M448.68,221.69 Q446.86,227.81 440.06,226.37 M445.73,218.19 Q440.28,221.24 437.57,220.45 M445.03,215.52 Q438.87,216.45 436.80,215.35 M445.63,211.62 Q439.76,209.56 438.97,208.06 M448.08,208.34 Q442.92,204.65 446.27,200.09 M451.48,206.70 Q449.03,200.92 452.19,198.06 M455.38,206.77 Q456.21,200.57 459.02,199.49 M459.03,208.80 Q462.04,203.21 468.08,205.23 M460.91,211.48 Q466.32,208.38 468.50,209.79" fill="none" stroke="#6a52ac" stroke-width="3.6" stroke-linecap="round"/><circle cx="453.30" cy="214.80" r="11.350000000000001" fill="#6a52ac"/><circle cx="469.39" cy="218.81" r="2.05" fill="#6a52ac"/><circle cx="466.72" cy="224.33" r="2.05" fill="#6a52ac"/><circle cx="461.84" cy="228.88" r="2.05" fill="#6a52ac"/><circle cx="454.26" cy="230.26" r="2.05" fill="#6a52ac"/><circle cx="447.41" cy="230.93" r="2.05" fill="#6a52ac"/><circle cx="440.06" cy="226.37" r="2.05" fill="#6a52ac"/><circle cx="437.57" cy="220.45" r="2.05" fill="#6a52ac"/><circle cx="436.80" cy="215.35" r="2.05" fill="#6a52ac"/><circle cx="438.97" cy="208.06" r="2.05" fill="#6a52ac"/><circle cx="446.27" cy="200.09" r="2.05" fill="#6a52ac"/><circle cx="452.19" cy="198.06" r="2.05" fill="#6a52ac"/><circle cx="459.02" cy="199.49" r="2.05" fill="#6a52ac"/><circle cx="468.08" cy="205.23" r="2.05" fill="#6a52ac"/><circle cx="468.50" cy="209.79" r="2.05" fill="#6a52ac"/><path d="M461.60,214.73 Q467.69,212.85 469.39,218.81 M460.80,218.35 Q466.91,219.85 466.72,224.33 M458.83,220.99 Q463.94,224.68 461.84,228.88 M454.72,222.98 Q456.56,228.95 454.26,230.26 M452.05,223.01 Q452.56,229.30 447.41,230.93 M448.68,221.69 Q446.86,227.81 440.06,226.37 M445.73,218.19 Q440.28,221.24 437.57,220.45 M445.03,215.52 Q438.87,216.45 436.80,215.35 M445.63,211.62 Q439.76,209.56 438.97,208.06 M448.08,208.34 Q442.92,204.65 446.27,200.09 M451.48,206.70 Q449.03,200.92 452.19,198.06 M455.38,206.77 Q456.21,200.57 459.02,199.49 M459.03,208.80 Q462.04,203.21 468.08,205.23 M460.91,211.48 Q466.32,208.38 468.50,209.79" fill="none" stroke="#8878c8" stroke-width="2.5" stroke-linecap="round"/><circle cx="469.39" cy="218.81" r="1.50" fill="#8878c8"/><circle cx="466.72" cy="224.33" r="1.50" fill="#8878c8"/><circle cx="461.84" cy="228.88" r="1.50" fill="#8878c8"/><circle cx="454.26" cy="230.26" r="1.50" fill="#8878c8"/><circle cx="447.41" cy="230.93" r="1.50" fill="#8878c8"/><circle cx="440.06" cy="226.37" r="1.50" fill="#8878c8"/><circle cx="437.57" cy="220.45" r="1.50" fill="#8878c8"/><circle cx="436.80" cy="215.35" r="1.50" fill="#8878c8"/><circle cx="438.97" cy="208.06" r="1.50" fill="#8878c8"/><circle cx="446.27" cy="200.09" r="1.50" fill="#8878c8"/><circle cx="452.19" cy="198.06" r="1.50" fill="#8878c8"/><circle cx="459.02" cy="199.49" r="1.50" fill="#8878c8"/><circle cx="468.08" cy="205.23" r="1.50" fill="#8878c8"/><circle cx="468.50" cy="209.79" r="1.50" fill="#8878c8"/><circle cx="453.30" cy="214.80" r="10.8" fill="#8878c8"/><circle cx="456.30" cy="213.80" r="4.5" fill="#54308a"/><circle cx="456.30" cy="213.80" r="3.8" fill="#6a0a30"/><circle cx="447.00" cy="210.00" r="1.25" fill="#f8b8e8" stroke="#e060c0" stroke-width="0.6"/><circle cx="446.10" cy="218.30" r="1.25" fill="#f8b8e8" stroke="#e060c0" stroke-width="0.6"/><circle cx="456.00" cy="222.60" r="1.25" fill="#f8b8e8" stroke="#e060c0" stroke-width="0.6"/></g>
<g><path d="M459.28,279.31 Q465.52,280.25 467.35,275.54 M458.17,284.08 Q463.17,287.83 465.46,286.52 M455.90,286.60 Q458.91,292.08 462.35,292.31 M452.58,288.05 Q452.19,294.37 457.46,294.76 M449.71,288.10 Q447.00,293.86 452.44,295.62 M445.99,286.52 Q441.00,290.42 444.49,294.38 M443.44,283.32 Q437.32,284.77 438.04,288.61 M442.70,279.66 Q436.59,278.10 435.55,282.40 M443.29,276.81 Q437.69,274.11 435.77,274.82 M445.49,273.70 Q442.10,268.43 437.69,268.43 M449.87,271.68 Q450.33,265.40 445.94,264.41 M453.39,271.95 Q455.63,266.14 454.78,263.45 M456.28,273.49 Q460.68,269.08 460.57,266.14 M458.20,275.76 Q464.12,273.68 464.47,269.01" fill="none" stroke="#8e70c0" stroke-width="3.5" stroke-linecap="round"/><circle cx="451.00" cy="279.90" r="11.350000000000001" fill="#8e70c0"/><circle cx="467.35" cy="275.54" r="2.00" fill="#8e70c0"/><circle cx="465.46" cy="286.52" r="2.00" fill="#8e70c0"/><circle cx="462.35" cy="292.31" r="2.00" fill="#8e70c0"/><circle cx="457.46" cy="294.76" r="2.00" fill="#8e70c0"/><circle cx="452.44" cy="295.62" r="2.00" fill="#8e70c0"/><circle cx="444.49" cy="294.38" r="2.00" fill="#8e70c0"/><circle cx="438.04" cy="288.61" r="2.00" fill="#8e70c0"/><circle cx="435.55" cy="282.40" r="2.00" fill="#8e70c0"/><circle cx="435.77" cy="274.82" r="2.00" fill="#8e70c0"/><circle cx="437.69" cy="268.43" r="2.00" fill="#8e70c0"/><circle cx="445.94" cy="264.41" r="2.00" fill="#8e70c0"/><circle cx="454.78" cy="263.45" r="2.00" fill="#8e70c0"/><circle cx="460.57" cy="266.14" r="2.00" fill="#8e70c0"/><circle cx="464.47" cy="269.01" r="2.00" fill="#8e70c0"/><path d="M459.28,279.31 Q465.52,280.25 467.35,275.54 M458.17,284.08 Q463.17,287.83 465.46,286.52 M455.90,286.60 Q458.91,292.08 462.35,292.31 M452.58,288.05 Q452.19,294.37 457.46,294.76 M449.71,288.10 Q447.00,293.86 452.44,295.62 M445.99,286.52 Q441.00,290.42 444.49,294.38 M443.44,283.32 Q437.32,284.77 438.04,288.61 M442.70,279.66 Q436.59,278.10 435.55,282.40 M443.29,276.81 Q437.69,274.11 435.77,274.82 M445.49,273.70 Q442.10,268.43 437.69,268.43 M449.87,271.68 Q450.33,265.40 445.94,264.41 M453.39,271.95 Q455.63,266.14 454.78,263.45 M456.28,273.49 Q460.68,269.08 460.57,266.14 M458.20,275.76 Q464.12,273.68 464.47,269.01" fill="none" stroke="#c9bbe4" stroke-width="2.4" stroke-linecap="round"/><circle cx="467.35" cy="275.54" r="1.45" fill="#c9bbe4"/><circle cx="465.46" cy="286.52" r="1.45" fill="#c9bbe4"/><circle cx="462.35" cy="292.31" r="1.45" fill="#c9bbe4"/><circle cx="457.46" cy="294.76" r="1.45" fill="#c9bbe4"/><circle cx="452.44" cy="295.62" r="1.45" fill="#c9bbe4"/><circle cx="444.49" cy="294.38" r="1.45" fill="#c9bbe4"/><circle cx="438.04" cy="288.61" r="1.45" fill="#c9bbe4"/><circle cx="435.55" cy="282.40" r="1.45" fill="#c9bbe4"/><circle cx="435.77" cy="274.82" r="1.45" fill="#c9bbe4"/><circle cx="437.69" cy="268.43" r="1.45" fill="#c9bbe4"/><circle cx="445.94" cy="264.41" r="1.45" fill="#c9bbe4"/><circle cx="454.78" cy="263.45" r="1.45" fill="#c9bbe4"/><circle cx="460.57" cy="266.14" r="1.45" fill="#c9bbe4"/><circle cx="464.47" cy="269.01" r="1.45" fill="#c9bbe4"/><circle cx="451.00" cy="279.90" r="10.8" fill="#c9bbe4"/><circle cx="453.90" cy="278.20" r="4.6" fill="#6a0a28"/><circle cx="444.50" cy="275.90" r="1.25" fill="#eadcf4" stroke="#c850a8" stroke-width="0.6"/><circle cx="444.20" cy="284.10" r="1.25" fill="#eadcf4" stroke="#c850a8" stroke-width="0.6"/><circle cx="452.80" cy="288.10" r="1.25" fill="#eadcf4" stroke="#c850a8" stroke-width="0.6"/></g>
<text x="453.50" y="186.20" font-size="6.6" text-anchor="middle" fill="#333" class="lt">β-lactam ring</text>
<text x="455.00" y="193.70" font-size="6.6" text-anchor="middle" fill="#333" class="lt">intact</text>
<text x="451.20" y="306.60" font-size="6.6" text-anchor="middle" fill="#333" class="lt">β-lactam ring</text>
<text x="452.10" y="313.70" font-size="6.6" text-anchor="middle" fill="#333" class="lt">cleaved off</text>
</g>
<g id="panelH">
<text x="2.00" y="334.80" font-size="13.2" text-anchor="start" font-weight="bold" fill="#000">H</text>
<text x="66.00" y="343.10" font-size="8.9" text-anchor="middle" fill="#1c1c1c">Endosome-to-cytosol</text>
<text x="66.20" y="352.20" font-size="8.9" text-anchor="middle" fill="#1c1c1c">import</text>
<line x1="56.80" y1="388.70" x2="56.80" y2="383.20" stroke="#1a1a1a" stroke-width="1.1"/>
<line x1="51.86" y1="383.20" x2="61.74" y2="383.20" stroke="#1a1a1a" stroke-width="1.1"/>
<rect x="47.30" y="388.70" width="19.00" height="53.00" fill="#ea3b26" stroke="#0c1a2a" stroke-width="1.0"/>
<line x1="87.50" y1="371.80" x2="87.50" y2="368.80" stroke="#1a1a1a" stroke-width="1.1"/>
<line x1="82.35" y1="368.80" x2="92.65" y2="368.80" stroke="#1a1a1a" stroke-width="1.1"/>
<rect x="77.60" y="371.80" width="19.80" height="69.90" fill="#17599b" stroke="#0c1a2a" stroke-width="1.0"/>
<line x1="36.30" y1="362.30" x2="36.30" y2="442.15" stroke="#111" stroke-width="1.0"/>
<line x1="35.85" y1="441.70" x2="108.00" y2="441.70" stroke="#111" stroke-width="1.0"/>
<line x1="33.00" y1="441.70" x2="36.30" y2="441.70" stroke="#111" stroke-width="1.0"/>
<text x="32.50" y="444.25" font-size="7.2" text-anchor="end" fill="#1c1c1c">0</text>
<line x1="33.00" y1="425.90" x2="36.30" y2="425.90" stroke="#111" stroke-width="1.0"/>
<text x="32.50" y="428.45" font-size="7.2" text-anchor="end" fill="#1c1c1c">20</text>
<line x1="33.00" y1="410.10" x2="36.30" y2="410.10" stroke="#111" stroke-width="1.0"/>
<text x="32.50" y="412.65" font-size="7.2" text-anchor="end" fill="#1c1c1c">40</text>
<line x1="33.00" y1="394.30" x2="36.30" y2="394.30" stroke="#111" stroke-width="1.0"/>
<text x="32.50" y="396.85" font-size="7.2" text-anchor="end" fill="#1c1c1c">60</text>
<line x1="33.00" y1="378.50" x2="36.30" y2="378.50" stroke="#111" stroke-width="1.0"/>
<text x="32.50" y="381.05" font-size="7.2" text-anchor="end" fill="#1c1c1c">80</text>
<line x1="33.00" y1="362.70" x2="36.30" y2="362.70" stroke="#111" stroke-width="1.0"/>
<text x="32.50" y="365.25" font-size="7.2" text-anchor="end" fill="#1c1c1c">100</text>
<line x1="56.80" y1="441.70" x2="56.80" y2="444.70" stroke="#111" stroke-width="1.0"/>
<line x1="87.50" y1="441.70" x2="87.50" y2="444.70" stroke="#111" stroke-width="1.0"/>
<line x1="57.00" y1="362.60" x2="88.20" y2="362.60" stroke="#222" stroke-width="1.1"/>
<text x="72.40" y="363.40" font-size="6.0" text-anchor="middle" fill="#1c1c1c">**</text>
<text x="60.10" y="450.70" font-size="7.0" text-anchor="end" fill="#1c1c1c" transform="rotate(-45 60.10 450.70)">DMSO</text>
<text x="90.80" y="450.70" font-size="7.0" text-anchor="end" fill="#1c1c1c" transform="rotate(-45 90.80 450.70)">0.5  µmol/L</text>
<text x="14.70" y="402.30" font-size="7.2" text-anchor="middle" fill="#1c1c1c" transform="rotate(-90 14.70 402.30)">β-lactam ring cleaved off (%)</text>
</g>
<g id="panelI">
<text x="134.10" y="333.70" font-size="13.2" text-anchor="start" font-weight="bold" fill="#000">I</text>
<g transform="rotate(-7 192.10 396.30)">
<ellipse cx="189.60" cy="396.60" rx="15.5" ry="2.7" fill="#2f7fd6" opacity="0.85"/>
<ellipse cx="192.10" cy="396.30" rx="11.5" ry="3.0" fill="#2a98b8"/>
<ellipse cx="192.90" cy="396.30" rx="8.0" ry="2.3" fill="#4fb070"/>
<ellipse cx="193.30" cy="396.30" rx="4.6" ry="1.5" fill="#cfd24a"/>
<ellipse cx="193.70" cy="396.30" rx="2.2" ry="0.9" fill="#ee9a35"/>
</g>
<path d="M200.4,392.7h.6M193.0,391.6h.6M193.4,394.0h.6M196.4,393.6h.6M199.8,392.3h.6M192.9,393.7h.6M181.5,394.7h.6M201.0,391.2h.6M201.6,389.5h.6M203.7,394.4h.6M187.5,393.5h.6M203.6,391.3h.6M193.4,390.4h.6M203.6,394.2h.6M194.1,393.3h.6M192.0,394.6h.6M178.8,392.7h.6M201.9,394.5h.6M203.3,391.7h.6M182.1,394.6h.6M202.0,394.8h.6M183.5,392.7h.6M201.1,393.7h.6M189.7,392.8h.6M193.1,390.8h.6M190.3,391.1h.6M199.0,393.1h.6M188.0,394.0h.6M199.3,393.7h.6M185.9,389.8h.6M193.5,394.4h.6M179.9,394.1h.6M206.8,392.0h.6M201.7,393.7h.6M192.9,392.8h.6M209.0,390.1h.6M190.9,392.6h.6M185.9,392.4h.6M196.8,394.3h.6M197.0,394.6h.6M204.6,394.3h.6M198.3,392.0h.6M190.6,394.6h.6M202.1,393.5h.6M199.5,393.7h.6M202.3,394.4h.6M176.6,393.0h.6M194.2,394.1h.6M185.0,391.7h.6M183.4,394.3h.6M193.2,392.3h.6M201.3,390.2h.6M208.3,390.9h.6M199.8,392.1h.6M188.5,394.5h.6M212.3,391.8h.6M194.3,392.4h.6M199.7,394.2h.6M208.1,392.2h.6M193.2,392.1h.6M189.5,392.3h.6M194.0,391.5h.6M196.3,392.5h.6M191.1,391.2h.6M198.9,390.7h.6M202.8,394.7h.6M196.0,394.2h.6M197.2,393.0h.6M199.5,393.6h.6M189.3,393.5h.6M204.0,394.3h.6M195.9,393.8h.6M192.7,394.2h.6M196.6,393.7h.6M194.9,392.6h.6M192.9,394.0h.6M203.4,394.4h.6M200.5,392.5h.6M193.7,391.6h.6M204.2,388.2h.6M202.0,392.8h.6M197.4,393.0h.6M193.5,394.1h.6M197.3,393.4h.6M195.4,391.1h.6M197.7,394.2h.6M190.2,394.5h.6M195.2,390.9h.6M192.1,390.6h.6M203.4,393.8h.6M184.9,393.5h.6M190.1,394.0h.6M188.5,393.5h.6M203.5,392.3h.6M195.6,391.6h.6M184.6,392.7h.6M197.9,393.1h.6M196.4,392.2h.6M194.6,391.7h.6M198.2,392.7h.6M190.8,393.3h.6M179.2,394.3h.6M199.2,393.2h.6M195.5,394.7h.6M198.6,390.9h.6M197.8,391.8h.6M194.8,392.3h.6M195.4,392.4h.6M198.9,393.0h.6M195.0,391.8h.6M195.1,387.6h.6M196.0,391.3h.6M197.4,390.0h.6M201.6,387.6h.6M203.9,390.6h.6M198.3,389.0h.6M204.6,390.8h.6M202.3,387.9h.6M203.1,389.6h.6M203.8,391.4h.6M195.4,388.4h.6M201.0,388.4h.6M197.9,389.2h.6M203.7,388.6h.6M201.2,385.2h.6M209.3,392.5h.6M197.8,390.2h.6M199.3,392.1h.6M201.9,392.9h.6M199.3,392.9h.6M201.5,392.9h.6M196.0,385.5h.6M200.5,390.1h.6M197.5,390.4h.6M196.1,393.0h.6" stroke="#4a98d8" stroke-width="0.6" opacity="0.6"/>
<rect x="153.80" y="346.00" width="69.40" height="67.70" fill="none" stroke="#222" stroke-width="0.8"/>
<path d="M175.75,347.50 L210.50,346.25 L210.50,390.75 L175.75,391.25 Z" fill="none" stroke="#333" stroke-width="0.7"/>
<text x="153.20" y="352.40" font-size="6.9" text-anchor="end" fill="#1c1c1c">10<tspan dy="-2.7" font-size="4.97">5</tspan></text>
<text x="153.20" y="369.80" font-size="6.9" text-anchor="end" fill="#1c1c1c">10<tspan dy="-2.7" font-size="4.97">4</tspan></text>
<text x="153.20" y="388.30" font-size="6.9" text-anchor="end" fill="#1c1c1c">10<tspan dy="-2.7" font-size="4.97">3</tspan></text>
<text x="151.60" y="399.60" font-size="6.9" text-anchor="end" fill="#1c1c1c">0</text>
<text x="153.20" y="410.80" font-size="6.9" text-anchor="end" fill="#1c1c1c">−10<tspan dy="-2.7" font-size="4.97">3</tspan></text>
<line x1="152.20" y1="350.00" x2="153.80" y2="350.00" stroke="#111" stroke-width="0.7"/>
<line x1="152.20" y1="367.50" x2="153.80" y2="367.50" stroke="#111" stroke-width="0.7"/>
<line x1="152.20" y1="386.00" x2="153.80" y2="386.00" stroke="#111" stroke-width="0.7"/>
<line x1="152.20" y1="397.50" x2="153.80" y2="397.50" stroke="#111" stroke-width="0.7"/>
<line x1="152.20" y1="408.70" x2="153.80" y2="408.70" stroke="#111" stroke-width="0.7"/>
<line x1="152.60" y1="397.50" x2="153.80" y2="397.50" stroke="#111" stroke-width="1.6"/>
<text x="158.80" y="423.20" font-size="6.9" text-anchor="middle" fill="#1c1c1c">−10<tspan dy="-2.7" font-size="4.97">3</tspan></text>
<text x="169.60" y="423.20" font-size="6.9" text-anchor="middle" fill="#1c1c1c">0</text>
<text x="183.80" y="423.20" font-size="6.9" text-anchor="middle" fill="#1c1c1c">10<tspan dy="-2.7" font-size="4.97">3</tspan></text>
<text x="201.30" y="423.20" font-size="6.9" text-anchor="middle" fill="#1c1c1c">10<tspan dy="-2.7" font-size="4.97">4</tspan></text>
<text x="218.80" y="423.20" font-size="6.9" text-anchor="middle" fill="#1c1c1c">10<tspan dy="-2.7" font-size="4.97">5</tspan></text>
<line x1="158.80" y1="413.70" x2="158.80" y2="415.30" stroke="#111" stroke-width="0.7"/>
<line x1="169.60" y1="413.70" x2="169.60" y2="415.30" stroke="#111" stroke-width="0.7"/>
<line x1="182.80" y1="413.70" x2="182.80" y2="415.30" stroke="#111" stroke-width="0.7"/>
<line x1="200.30" y1="413.70" x2="200.30" y2="415.30" stroke="#111" stroke-width="0.7"/>
<line x1="217.80" y1="413.70" x2="217.80" y2="415.30" stroke="#111" stroke-width="0.7"/>
<line x1="169.60" y1="413.70" x2="169.60" y2="415.10" stroke="#111" stroke-width="1.6"/>
<text x="187.20" y="433.20" font-size="7.0" text-anchor="middle" fill="#1c1c1c">525/20</text>
<text x="138.60" y="379.00" font-size="7.4" text-anchor="middle" fill="#1c1c1c" transform="rotate(-90 138.60 379.00)">450/50</text>
<text x="189.80" y="343.00" font-size="8.6" text-anchor="middle" fill="#1c1c1c">no β-lactamase</text>
<text x="155.60" y="407.00" font-size="6.4" text-anchor="start" fill="#1c1c1c">Cleaved off</text>
<text x="155.60" y="412.20" font-size="6.6" text-anchor="start" fill="#1c1c1c">1,40</text>
<path d="M264.90,397.6 L267.60,390.2 L266.30,397.8 Z" fill="#2f55a8" stroke="#2f55a8" stroke-width="0.5"/>
<path d="M284.8,395.2h.6M296.3,396.2h.6M296.5,396.6h.6M288.9,397.2h.6M281.1,396.3h.6M282.6,398.2h.6M282.6,396.7h.6M292.5,396.1h.6M293.3,397.0h.6M293.1,396.4h.6M287.0,395.7h.6M294.8,396.0h.6M296.4,397.6h.6M293.7,396.2h.6M296.5,397.1h.6M294.9,395.7h.6M282.3,395.9h.6M291.5,396.0h.6M292.0,396.4h.6M294.5,397.0h.6M296.5,396.1h.6M294.0,397.1h.6M283.9,395.6h.6M291.0,397.1h.6M287.1,397.2h.6" stroke="#a8c8e8" stroke-width="0.5" opacity="0.5"/>
<rect x="249.30" y="346.00" width="69.40" height="67.70" fill="none" stroke="#222" stroke-width="0.8"/>
<path d="M271.25,347.00 L305.50,345.75 L305.50,389.50 L271.25,390.50 Z" fill="none" stroke="#333" stroke-width="0.7"/>
<text x="248.70" y="352.40" font-size="6.9" text-anchor="end" fill="#1c1c1c">10<tspan dy="-2.7" font-size="4.97">5</tspan></text>
<text x="248.70" y="369.80" font-size="6.9" text-anchor="end" fill="#1c1c1c">10<tspan dy="-2.7" font-size="4.97">4</tspan></text>
<text x="248.70" y="388.30" font-size="6.9" text-anchor="end" fill="#1c1c1c">10<tspan dy="-2.7" font-size="4.97">3</tspan></text>
<text x="247.10" y="399.60" font-size="6.9" text-anchor="end" fill="#1c1c1c">0</text>
<text x="248.70" y="410.80" font-size="6.9" text-anchor="end" fill="#1c1c1c">−10<tspan dy="-2.7" font-size="4.97">3</tspan></text>
<line x1="247.70" y1="350.00" x2="249.30" y2="350.00" stroke="#111" stroke-width="0.7"/>
<line x1="247.70" y1="367.50" x2="249.30" y2="367.50" stroke="#111" stroke-width="0.7"/>
<line x1="247.70" y1="386.00" x2="249.30" y2="386.00" stroke="#111" stroke-width="0.7"/>
<line x1="247.70" y1="397.50" x2="249.30" y2="397.50" stroke="#111" stroke-width="0.7"/>
<line x1="247.70" y1="408.70" x2="249.30" y2="408.70" stroke="#111" stroke-width="0.7"/>
<line x1="248.10" y1="397.50" x2="249.30" y2="397.50" stroke="#111" stroke-width="1.6"/>
<text x="254.30" y="423.20" font-size="6.9" text-anchor="middle" fill="#1c1c1c">−10<tspan dy="-2.7" font-size="4.97">3</tspan></text>
<text x="265.10" y="423.20" font-size="6.9" text-anchor="middle" fill="#1c1c1c">0</text>
<text x="279.30" y="423.20" font-size="6.9" text-anchor="middle" fill="#1c1c1c">10<tspan dy="-2.7" font-size="4.97">3</tspan></text>
<text x="296.80" y="423.20" font-size="6.9" text-anchor="middle" fill="#1c1c1c">10<tspan dy="-2.7" font-size="4.97">4</tspan></text>
<text x="314.30" y="423.20" font-size="6.9" text-anchor="middle" fill="#1c1c1c">10<tspan dy="-2.7" font-size="4.97">5</tspan></text>
<line x1="254.30" y1="413.70" x2="254.30" y2="415.30" stroke="#111" stroke-width="0.7"/>
<line x1="265.10" y1="413.70" x2="265.10" y2="415.30" stroke="#111" stroke-width="0.7"/>
<line x1="278.30" y1="413.70" x2="278.30" y2="415.30" stroke="#111" stroke-width="0.7"/>
<line x1="295.80" y1="413.70" x2="295.80" y2="415.30" stroke="#111" stroke-width="0.7"/>
<line x1="313.30" y1="413.70" x2="313.30" y2="415.30" stroke="#111" stroke-width="0.7"/>
<line x1="265.10" y1="413.70" x2="265.10" y2="415.10" stroke="#111" stroke-width="1.6"/>
<text x="286.30" y="433.20" font-size="7.0" text-anchor="middle" fill="#1c1c1c">525/20</text>
<text x="234.10" y="379.00" font-size="7.4" text-anchor="middle" fill="#1c1c1c" transform="rotate(-90 234.10 379.00)">450/50</text>
<text x="287.20" y="343.40" font-size="8.6" text-anchor="middle" fill="#1c1c1c">no CCF4</text>
<text x="251.10" y="405.00" font-size="6.4" text-anchor="start" fill="#1c1c1c">Cleaved off</text>
<text x="251.10" y="411.80" font-size="6.6" text-anchor="start" fill="#1c1c1c">0,017</text>
<path d="M388.4,375.0h.7M386.5,389.3h.7M390.2,372.7h.7M388.8,378.0h.7M384.1,382.6h.7M383.3,367.0h.7M377.7,353.7h.7M390.9,390.6h.7M385.6,389.3h.7M385.8,389.3h.7M389.4,371.8h.7M390.6,380.8h.7M388.9,378.9h.7M387.5,377.0h.7M384.5,356.2h.7M386.7,379.5h.7M389.9,371.2h.7M381.3,391.6h.7M386.7,378.5h.7M382.9,365.2h.7M387.2,368.6h.7M386.9,362.8h.7M389.8,382.9h.7M392.2,362.5h.7M381.6,385.3h.7M383.2,382.5h.7M391.8,374.4h.7M385.6,383.8h.7M392.6,361.8h.7M391.0,382.2h.7M386.0,388.8h.7M384.9,386.4h.7M389.8,380.7h.7M386.3,382.6h.7M395.0,383.1h.7M388.8,370.7h.7M385.4,382.2h.7M389.5,393.1h.7M384.9,386.6h.7M388.4,385.7h.7M386.3,392.0h.7M386.4,386.7h.7M390.3,378.1h.7M390.9,383.8h.7M380.7,387.6h.7M388.5,363.7h.7M383.2,391.0h.7M383.8,384.9h.7M387.0,366.1h.7M389.9,361.7h.7M391.5,371.7h.7M380.9,383.8h.7M377.6,384.2h.7M395.1,359.9h.7M390.7,364.6h.7M386.4,386.3h.7M385.4,357.5h.7M390.0,375.5h.7M385.8,387.0h.7M389.2,379.2h.7M382.3,380.6h.7M387.2,371.2h.7M391.5,380.0h.7M388.4,366.5h.7M387.6,390.4h.7M389.8,369.0h.7M390.6,393.8h.7M390.4,377.9h.7M383.0,379.4h.7M387.8,368.1h.7M383.5,398.2h.7M387.4,383.5h.7M389.7,380.4h.7M387.0,387.3h.7M386.1,375.3h.7M388.4,386.1h.7M392.9,384.2h.7M387.8,365.8h.7M391.2,384.5h.7M385.7,361.1h.7M392.2,384.2h.7M379.2,366.9h.7M386.7,385.7h.7M388.9,385.3h.7M390.8,357.2h.7M393.9,386.8h.7M385.2,379.7h.7M382.6,397.8h.7M387.9,356.2h.7M390.3,384.9h.7M386.9,387.2h.7M383.8,374.8h.7M387.2,371.1h.7M384.4,390.9h.7M383.3,387.0h.7M388.4,391.1h.7M380.7,373.7h.7M386.1,364.2h.7M387.1,377.4h.7M392.8,379.2h.7M387.3,354.0h.7M387.9,395.4h.7M389.4,375.8h.7M387.5,380.2h.7M390.0,387.1h.7M387.2,358.0h.7M384.6,393.4h.7M388.6,375.1h.7M382.7,380.3h.7M387.4,360.3h.7M384.1,388.7h.7M385.7,395.5h.7M387.9,391.7h.7M391.3,361.5h.7M379.8,368.3h.7M389.7,374.0h.7M383.8,389.2h.7M390.3,376.9h.7M386.4,367.2h.7M389.1,382.8h.7M388.9,383.5h.7M389.0,383.6h.7M388.8,366.1h.7M390.4,377.5h.7M389.3,353.9h.7M395.5,368.7h.7M394.9,374.6h.7M382.3,373.9h.7M388.3,361.5h.7M390.4,376.3h.7M391.5,391.9h.7M390.2,364.4h.7M386.3,381.9h.7M385.2,367.9h.7M389.3,372.4h.7M393.3,364.7h.7M387.2,395.8h.7M389.8,384.1h.7M385.3,386.5h.7M386.6,382.5h.7M383.8,391.3h.7M380.7,359.1h.7M386.6,380.6h.7M386.3,374.5h.7M385.8,378.8h.7M390.2,378.8h.7M382.7,377.1h.7M387.4,387.7h.7M387.1,375.3h.7M384.6,374.2h.7M385.9,382.3h.7M393.5,381.1h.7M387.4,369.4h.7M391.3,392.5h.7M382.0,378.6h.7M384.2,387.2h.7M387.8,393.7h.7M383.1,366.2h.7M384.0,379.2h.7M382.8,353.9h.7M382.9,369.2h.7M391.9,392.8h.7M387.2,381.8h.7M390.1,382.5h.7M388.9,367.5h.7M387.5,379.5h.7M385.5,383.1h.7M384.9,353.6h.7M389.3,371.5h.7M393.9,388.9h.7M384.6,382.0h.7M388.5,377.2h.7M386.9,381.2h.7M386.3,373.4h.7M386.8,390.3h.7M385.4,379.1h.7M383.6,377.6h.7M384.8,379.2h.7M384.1,385.2h.7M387.7,381.4h.7M393.7,360.5h.7M386.1,369.4h.7M388.0,366.4h.7M384.0,395.0h.7M378.1,392.4h.7M383.0,393.8h.7M383.0,380.0h.7M387.1,380.7h.7M389.1,364.5h.7M384.8,380.9h.7M390.4,381.2h.7M383.3,373.8h.7M388.2,369.9h.7M384.6,378.5h.7M387.2,378.8h.7M393.8,386.0h.7M387.3,381.8h.7M390.4,380.6h.7M389.2,371.3h.7M392.2,379.8h.7M388.3,395.8h.7M392.8,360.0h.7M385.2,387.0h.7M389.6,390.3h.7M384.4,385.8h.7M386.5,386.3h.7M388.1,386.6h.7M384.4,372.4h.7M383.3,383.0h.7M391.8,378.5h.7M387.0,374.5h.7M391.8,389.4h.7M382.3,361.7h.7M390.9,371.2h.7M391.0,369.7h.7M383.4,384.9h.7M386.0,389.9h.7M386.6,384.9h.7M391.9,384.5h.7M385.3,372.5h.7M382.7,391.4h.7M379.5,382.6h.7M385.5,394.7h.7M384.0,377.1h.7M387.1,382.2h.7M385.8,371.2h.7M388.9,386.0h.7M391.8,381.7h.7M385.5,394.7h.7M388.4,395.8h.7M384.7,382.2h.7M378.5,372.6h.7M392.4,390.4h.7M390.0,360.4h.7M384.4,374.0h.7M383.6,390.5h.7M385.0,375.3h.7M397.0,376.9h.7M392.5,356.5h.7M382.9,370.8h.7M386.7,376.9h.7M380.7,381.7h.7M380.6,384.2h.7M375.3,365.7h.7M384.1,365.5h.7M387.7,379.7h.7M387.6,383.5h.7M389.0,356.7h.7M389.3,388.6h.7M383.2,373.5h.7M380.0,353.9h.7M386.1,390.8h.7M381.8,384.2h.7M391.6,366.5h.7M383.0,366.2h.7M383.3,395.2h.7M381.7,394.4h.7M387.9,377.5h.7M391.0,362.3h.7M389.9,372.9h.7M387.0,353.6h.7M390.3,378.9h.7M388.6,374.2h.7M385.8,372.6h.7M382.3,384.4h.7M383.6,372.2h.7M386.8,373.5h.7M388.4,390.3h.7M388.0,374.7h.7M395.3,373.6h.7M379.2,396.8h.7M380.1,376.6h.7M391.7,376.9h.7M385.1,382.5h.7M383.0,363.3h.7M377.1,380.8h.7M398.0,386.9h.7M386.7,381.1h.7M383.0,385.5h.7M387.9,385.4h.7M386.5,374.5h.7M379.3,375.9h.7M389.1,373.0h.7M392.6,383.0h.7M382.7,385.2h.7M389.8,387.9h.7M389.8,379.7h.7M385.1,392.0h.7M385.1,376.7h.7M391.9,378.7h.7M387.0,386.6h.7M383.6,372.8h.7M390.0,373.9h.7M387.3,385.3h.7M383.6,381.6h.7M387.0,379.1h.7M385.6,377.1h.7M385.5,386.3h.7M382.6,384.7h.7M383.2,374.4h.7M388.4,378.5h.7M385.3,387.5h.7M385.4,380.3h.7M385.6,389.8h.7M391.0,355.3h.7M392.1,389.5h.7M380.8,396.3h.7M385.5,380.6h.7M388.2,366.2h.7M385.4,388.2h.7M390.4,365.7h.7M396.5,374.7h.7M385.9,373.1h.7M390.9,362.1h.7M384.9,368.4h.7M385.2,391.7h.7M391.4,384.1h.7M390.2,359.3h.7M385.7,379.1h.7M386.5,372.9h.7M385.2,382.4h.7M391.1,362.9h.7M391.0,393.3h.7M382.8,374.4h.7M390.5,364.3h.7M387.2,381.9h.7M385.7,387.8h.7M387.3,393.8h.7M390.3,377.8h.7M386.1,379.9h.7M393.7,394.1h.7M389.4,375.6h.7M390.5,391.7h.7M388.7,395.7h.7M386.7,385.0h.7M390.5,352.6h.7M387.8,382.6h.7M389.8,377.6h.7M389.0,389.7h.7M385.0,391.8h.7M382.5,373.5h.7M380.2,391.0h.7M390.5,367.2h.7M386.5,387.9h.7M388.5,373.1h.7M395.8,355.2h.7M391.1,377.4h.7M385.2,361.4h.7M384.8,388.4h.7M388.6,381.7h.7M390.5,391.7h.7M387.2,389.4h.7M392.0,355.7h.7M382.7,387.2h.7M390.6,385.3h.7M388.9,386.3h.7M383.2,383.9h.7M385.8,379.7h.7M389.3,387.6h.7M387.8,359.4h.7M375.1,369.3h.7M397.0,381.8h.7M384.5,383.5h.7M390.4,370.0h.7M387.4,386.5h.7M380.8,374.3h.7M385.3,383.7h.7M387.6,364.6h.7M389.3,394.5h.7M381.3,378.0h.7M391.0,382.5h.7M382.6,390.8h.7M388.2,385.5h.7M382.3,384.3h.7M392.7,363.3h.7M393.5,372.9h.7M390.3,368.6h.7M393.7,360.3h.7M387.6,386.5h.7M392.3,359.2h.7M381.9,366.5h.7M390.1,379.4h.7M385.3,393.3h.7M390.3,389.9h.7M382.5,383.9h.7M390.1,358.4h.7M398.9,366.6h.7M386.3,381.4h.7M385.7,372.5h.7M385.1,373.6h.7M385.6,357.8h.7M389.4,366.9h.7M385.4,388.9h.7M391.4,388.3h.7M394.6,357.0h.7M387.9,379.5h.7M386.7,379.7h.7M392.2,366.6h.7M389.0,379.4h.7M392.6,392.0h.7M392.9,377.1h.7M386.6,398.0h.7M384.2,379.3h.7M380.1,380.0h.7M388.9,392.9h.7M387.3,388.0h.7M387.8,375.9h.7M389.5,377.3h.7M384.9,378.3h.7M377.6,388.0h.7M384.4,396.7h.7M383.0,395.3h.7M386.1,370.2h.7M386.1,376.9h.7M383.0,380.9h.7M385.3,380.8h.7M385.9,382.9h.7M390.0,358.6h.7M383.8,364.1h.7M387.5,388.1h.7M388.0,358.7h.7M389.1,388.5h.7M390.7,382.2h.7M387.7,376.2h.7M392.1,380.6h.7M390.7,385.0h.7M388.5,378.5h.7M386.4,363.9h.7M379.3,379.4h.7M379.7,388.3h.7M392.2,387.4h.7M386.2,366.4h.7M382.7,366.3h.7M388.0,386.5h.7M384.5,383.8h.7M387.2,368.2h.7M392.9,387.1h.7M379.8,381.8h.7M386.6,366.7h.7M394.3,365.7h.7M388.3,366.9h.7M384.3,389.8h.7M382.7,389.9h.7M383.2,387.0h.7M383.9,368.5h.7M382.6,370.4h.7M389.9,366.6h.7M384.3,385.5h.7M391.1,371.1h.7M393.1,389.4h.7M384.5,380.7h.7M389.2,373.8h.7M389.5,378.9h.7M389.2,380.7h.7M386.7,374.5h.7M385.5,395.1h.7M387.2,395.1h.7M383.6,383.9h.7M387.6,370.2h.7M388.3,370.4h.7M392.2,362.6h.7M386.6,359.0h.7M386.9,386.4h.7M387.4,387.0h.7M388.4,354.3h.7M387.3,361.4h.7M393.2,361.1h.7M396.6,376.4h.7M386.4,392.8h.7M389.2,367.3h.7M381.5,382.0h.7M387.8,371.0h.7M392.1,369.2h.7M381.3,379.3h.7M385.1,379.5h.7M385.5,364.7h.7M397.1,360.5h.7M390.9,395.6h.7M391.3,368.9h.7M385.4,384.7h.7M383.3,396.0h.7M395.5,370.9h.7M389.3,387.8h.7M393.0,365.7h.7M389.0,378.9h.7M382.9,386.0h.7M387.3,378.6h.7M385.4,386.7h.7M386.7,378.9h.7M387.2,377.4h.7M391.9,379.8h.7M389.1,376.0h.7M386.3,379.3h.7M390.6,371.7h.7M383.4,371.7h.7M384.7,376.9h.7M386.2,362.4h.7M393.5,385.6h.7M390.0,357.8h.7M389.4,365.4h.7M386.7,382.9h.7M387.3,372.9h.7M389.3,378.0h.7M389.7,369.7h.7M392.3,375.0h.7M388.8,386.4h.7M389.0,376.2h.7M385.9,359.9h.7M385.3,397.5h.7M389.7,373.6h.7M386.4,357.2h.7M385.8,374.0h.7M388.2,379.0h.7M391.0,387.1h.7M379.4,379.1h.7M391.6,385.9h.7M386.0,388.1h.7M382.4,386.7h.7M393.2,382.1h.7M384.5,376.4h.7M383.8,375.9h.7M381.6,362.9h.7M390.1,392.9h.7M385.0,371.1h.7M382.8,370.1h.7M388.5,383.8h.7M388.6,386.1h.7M384.8,387.3h.7M385.3,389.7h.7M387.7,379.2h.7M389.0,384.4h.7M393.8,376.2h.7M396.8,370.3h.7M390.6,364.4h.7M388.0,367.8h.7M385.4,383.7h.7M387.1,385.5h.7M385.8,388.8h.7M391.8,366.3h.7M387.4,389.5h.7M383.5,381.7h.7M391.2,370.0h.7M388.5,388.7h.7M386.6,374.4h.7M382.2,383.6h.7M388.0,394.5h.7M397.5,359.2h.7M380.5,372.7h.7M387.2,390.0h.7M397.2,376.1h.7M388.4,375.3h.7M383.7,376.6h.7M382.0,390.7h.7M385.6,383.5h.7M392.4,387.9h.7M383.4,384.0h.7M388.0,389.3h.7M379.6,380.3h.7M391.4,384.8h.7M386.2,380.0h.7M396.5,381.2h.7M388.2,371.0h.7M378.5,381.7h.7M383.5,361.1h.7M390.7,378.2h.7M391.4,370.1h.7M389.8,386.1h.7M384.7,384.6h.7M384.3,378.7h.7M390.1,376.8h.7M395.0,377.8h.7M386.2,394.9h.7M388.9,359.9h.7M384.5,370.1h.7M384.8,394.9h.7M383.4,380.8h.7M387.8,368.7h.7M391.4,379.0h.7M388.7,364.2h.7M385.5,367.1h.7M385.2,394.6h.7M388.2,386.3h.7M380.8,380.4h.7M383.3,360.1h.7M391.9,381.4h.7M381.5,391.5h.7M385.4,390.7h.7M384.5,362.5h.7M381.8,393.5h.7M389.5,372.3h.7M394.4,372.4h.7M391.5,387.1h.7M393.6,365.7h.7M394.9,375.5h.7M386.3,370.3h.7M391.4,377.6h.7M378.1,379.4h.7M387.5,375.7h.7M400.1,380.4h.7M393.4,366.3h.7M392.3,368.7h.7M387.9,380.7h.7M387.4,386.8h.7M391.2,369.3h.7M387.5,394.3h.7M384.9,359.5h.7M387.3,393.6h.7M386.2,396.0h.7M391.8,393.0h.7M386.9,379.3h.7M384.8,370.4h.7M389.6,385.3h.7M381.3,386.3h.7M387.6,355.2h.7M383.9,371.5h.7M394.0,366.4h.7M381.8,381.7h.7M390.2,379.0h.7M388.8,363.2h.7M390.4,377.6h.7M385.7,383.9h.7M383.4,369.6h.7M383.9,389.3h.7M391.6,377.8h.7M383.5,357.6h.7M384.1,376.1h.7M386.7,370.3h.7M382.6,368.5h.7M392.3,384.2h.7M384.2,393.3h.7M391.7,387.9h.7M382.8,387.8h.7M384.7,385.8h.7M382.1,389.8h.7M386.8,377.7h.7M387.6,376.5h.7M386.3,358.0h.7M386.2,388.8h.7M394.0,372.2h.7M389.6,385.6h.7M386.8,381.3h.7M387.6,365.8h.7M381.8,384.3h.7M390.9,381.0h.7M387.0,380.3h.7M390.7,366.4h.7M385.4,379.8h.7M384.3,381.6h.7M384.1,372.9h.7M390.7,390.0h.7M384.4,388.1h.7M392.3,379.1h.7M380.4,383.3h.7M390.0,381.5h.7M386.4,398.8h.7M393.8,382.6h.7M395.8,388.1h.7M392.8,389.8h.7M386.0,382.0h.7M391.3,360.9h.7M385.5,362.7h.7M385.6,389.5h.7M388.3,372.7h.7M381.3,387.3h.7M394.4,386.2h.7M388.8,377.0h.7M381.5,388.5h.7M388.5,388.4h.7M382.2,379.8h.7M387.6,374.7h.7M393.4,378.6h.7M383.3,394.3h.7M390.4,366.0h.7M385.3,365.3h.7M389.7,381.2h.7M391.0,386.3h.7M387.8,386.1h.7M391.3,378.5h.7M380.4,376.8h.7M391.3,379.6h.7M395.3,373.9h.7M386.1,387.4h.7M384.1,380.3h.7M390.1,366.1h.7M373.5,369.9h.7M395.7,389.6h.7M393.9,387.5h.7M386.8,371.9h.7M387.2,364.3h.7M385.8,388.4h.7M379.5,369.6h.7M388.5,391.1h.7M388.9,358.3h.7M386.7,384.7h.7M380.6,384.2h.7M388.1,368.7h.7M388.3,356.3h.7M390.1,365.9h.7M384.9,369.8h.7M388.1,372.9h.7M386.9,361.1h.7M393.4,377.7h.7M383.5,372.5h.7M385.0,397.2h.7M386.1,380.4h.7M391.8,361.0h.7M393.8,370.7h.7M388.3,380.8h.7M390.3,393.3h.7M389.4,355.9h.7M387.5,384.3h.7M394.9,377.6h.7M387.6,377.4h.7M385.6,369.5h.7M393.0,384.5h.7M386.5,378.4h.7M381.5,388.4h.7M386.2,370.7h.7M392.8,380.7h.7M387.0,378.6h.7M384.3,381.7h.7M390.1,375.9h.7M387.6,388.3h.7M389.4,379.6h.7M383.7,381.0h.7M392.4,359.1h.7M391.7,374.2h.7M388.0,367.0h.7M387.7,386.7h.7M385.0,378.8h.7M390.6,381.3h.7M395.1,375.0h.7M396.8,385.4h.7M392.8,382.2h.7M389.9,394.2h.7M393.2,389.9h.7M387.8,376.9h.7M388.2,393.4h.7M387.6,395.2h.7M395.6,394.3h.7M382.5,371.8h.7M384.4,378.8h.7M387.6,374.6h.7M386.1,389.8h.7M383.9,386.3h.7M386.8,367.5h.7M392.6,365.6h.7M382.9,373.4h.7M384.5,382.6h.7M394.4,373.8h.7M389.4,357.8h.7M389.7,374.1h.7M379.0,385.9h.7M385.6,398.5h.7M387.3,381.2h.7M387.1,389.9h.7M386.4,395.8h.7M385.4,371.4h.7M390.2,398.7h.7M392.4,376.8h.7M381.9,383.6h.7M389.7,383.6h.7M394.9,383.0h.7M386.0,398.5h.7M390.5,373.3h.7M389.6,364.9h.7M390.4,357.8h.7M382.4,378.2h.7M384.9,371.1h.7M380.8,388.2h.7M383.1,384.0h.7M380.6,367.9h.7M386.8,381.3h.7M389.4,364.3h.7M387.1,363.2h.7M391.9,371.1h.7M391.1,370.4h.7M393.1,374.2h.7M384.0,386.7h.7M387.2,390.0h.7M392.0,367.7h.7M389.6,379.8h.7M383.3,388.4h.7M389.6,374.9h.7M381.0,381.1h.7M383.2,386.7h.7M389.8,391.3h.7M386.0,385.6h.7M388.3,396.5h.7M384.5,355.9h.7M385.5,372.3h.7M384.3,379.5h.7M378.3,364.6h.7M382.8,381.0h.7M391.6,389.7h.7M391.2,383.0h.7M391.7,361.2h.7M392.1,367.7h.7M386.8,382.5h.7M389.2,394.3h.7" stroke="#4f88ba" stroke-width="0.75" opacity="0.62"/>
<path d="M383.8,385.2h.7M388.1,374.3h.7M382.1,382.7h.7M386.2,395.5h.7M386.5,376.1h.7M384.3,391.2h.7M385.3,396.3h.7M388.3,375.6h.7M390.7,379.2h.7M388.6,376.3h.7M388.1,378.8h.7M389.2,386.0h.7M387.5,393.6h.7M385.8,392.4h.7M386.1,381.5h.7M384.4,390.7h.7M391.3,378.7h.7M387.7,391.4h.7M383.6,386.3h.7M382.4,402.0h.7M385.1,392.6h.7M383.1,388.5h.7M386.8,389.6h.7M386.9,385.4h.7M384.1,379.3h.7M385.9,387.5h.7M386.9,395.1h.7M388.4,390.0h.7M388.8,373.5h.7M388.5,385.4h.7M386.9,392.3h.7M386.9,373.0h.7M388.6,393.5h.7M387.6,379.6h.7M388.5,390.9h.7M384.5,382.0h.7M388.2,380.3h.7M388.4,391.2h.7M383.7,382.3h.7M387.8,386.3h.7M387.0,393.3h.7M387.9,393.6h.7M388.4,391.9h.7M389.6,385.8h.7M386.7,386.8h.7M384.7,388.4h.7M388.6,379.8h.7M387.0,376.2h.7M387.5,377.5h.7M383.9,377.5h.7M385.3,376.1h.7M389.1,391.5h.7M384.4,395.8h.7M385.0,380.8h.7M386.5,390.4h.7M387.4,389.5h.7M386.8,389.6h.7M383.9,372.7h.7M389.4,392.9h.7M387.9,387.2h.7M386.1,383.0h.7M384.7,388.8h.7M387.1,389.9h.7M387.1,384.6h.7M388.2,389.8h.7M383.6,383.0h.7M389.3,390.1h.7M385.7,389.7h.7M390.1,379.4h.7M385.3,386.5h.7M387.8,388.1h.7M388.1,393.1h.7M389.1,388.5h.7M388.0,394.8h.7M385.2,383.6h.7M386.1,378.3h.7M384.7,374.9h.7M391.5,388.9h.7M384.5,388.4h.7M388.3,386.1h.7M386.4,377.2h.7M384.0,381.8h.7M390.7,384.8h.7M388.7,379.8h.7M386.8,376.2h.7M385.0,389.0h.7M384.6,379.2h.7M390.4,391.8h.7M386.5,379.3h.7M387.7,385.0h.7M390.9,383.7h.7M387.5,388.1h.7M389.1,390.9h.7M388.0,377.8h.7M383.4,374.4h.7M384.0,388.7h.7M386.0,391.0h.7M387.2,388.8h.7M394.3,382.1h.7M386.5,399.5h.7M391.9,392.7h.7M392.2,385.8h.7M383.8,377.7h.7M386.8,373.5h.7M387.1,389.2h.7M387.6,394.2h.7M388.8,386.3h.7M389.0,388.2h.7M384.5,380.9h.7M380.6,387.4h.7M384.9,379.2h.7M386.0,382.6h.7M385.1,386.4h.7M390.2,386.4h.7M387.3,386.6h.7M386.9,383.5h.7M389.0,408.2h.7M386.7,384.5h.7M390.0,378.4h.7M384.7,385.3h.7M388.1,394.0h.7M387.6,400.3h.7M385.9,374.8h.7M386.7,391.3h.7M385.6,388.7h.7M387.9,379.9h.7M387.9,381.2h.7M389.7,388.5h.7M387.3,385.5h.7M387.5,375.7h.7M388.0,379.0h.7M387.1,387.1h.7M385.1,389.0h.7M389.1,381.3h.7M388.0,374.3h.7M385.9,390.3h.7M393.9,377.8h.7M385.4,388.3h.7M388.1,376.0h.7M385.9,385.5h.7M386.5,387.9h.7M386.1,384.4h.7M386.4,390.0h.7M382.5,374.8h.7M386.7,382.9h.7M383.5,378.3h.7M384.5,390.9h.7M381.8,391.0h.7M395.6,381.7h.7M383.0,392.7h.7M384.5,397.8h.7M387.6,380.8h.7M390.2,380.9h.7M388.6,382.3h.7M386.4,390.9h.7M388.0,386.6h.7M389.9,381.9h.7M384.6,388.6h.7M385.3,382.7h.7M386.2,380.1h.7M385.8,393.8h.7M385.3,393.8h.7M385.9,387.1h.7M385.1,375.5h.7M387.7,379.3h.7M391.1,388.5h.7M385.9,378.6h.7M388.7,380.2h.7M384.1,389.2h.7M382.0,387.4h.7M385.6,392.7h.7M384.7,397.2h.7M379.1,382.8h.7M390.6,397.4h.7M391.3,385.0h.7M389.2,379.7h.7M386.3,373.2h.7M390.2,384.5h.7M390.5,372.7h.7M387.0,387.9h.7M387.5,384.0h.7M388.7,390.3h.7M386.9,377.3h.7M391.8,390.3h.7M386.6,391.6h.7M391.7,373.6h.7M387.8,377.7h.7M387.4,377.3h.7M385.3,384.2h.7M384.6,387.9h.7M384.3,376.6h.7M385.0,383.1h.7M386.4,384.3h.7M387.6,389.6h.7M386.9,384.5h.7M389.9,402.1h.7M385.5,383.9h.7M385.3,391.4h.7M385.2,384.0h.7M385.4,388.1h.7M387.4,381.1h.7M389.0,395.2h.7M388.3,387.0h.7M388.4,390.9h.7M387.3,386.4h.7M390.3,400.8h.7M388.2,379.3h.7M388.0,373.6h.7M386.8,386.4h.7M387.0,389.4h.7M384.9,389.2h.7M385.9,375.4h.7M385.5,384.8h.7M387.6,385.1h.7M386.5,383.0h.7M383.1,379.8h.7M389.8,394.4h.7M389.3,385.1h.7M384.4,390.0h.7M391.3,387.1h.7M387.3,371.9h.7M388.4,387.6h.7M391.6,374.2h.7M389.7,387.7h.7M386.4,389.9h.7M384.3,383.4h.7M391.2,388.1h.7M390.7,389.3h.7M386.1,397.0h.7M386.6,389.3h.7" stroke="#3f8088" stroke-width="0.75" opacity="0.65"/>
<path d="M386.4,390.9h.7M386.9,387.9h.7M385.5,388.0h.7M387.5,387.9h.7M387.7,393.1h.7M386.6,395.0h.7M388.6,391.3h.7M387.6,391.3h.7M385.0,396.2h.7M384.8,392.2h.7M385.2,391.6h.7M387.6,391.9h.7M387.2,391.3h.7M386.5,395.6h.7M384.1,389.6h.7M386.5,388.0h.7M386.4,393.1h.7M386.5,395.5h.7M385.1,385.7h.7M387.0,391.1h.7M387.2,389.9h.7M384.1,390.0h.7M388.2,391.0h.7M384.1,388.6h.7M386.6,389.7h.7M389.0,395.1h.7M387.0,391.6h.7M385.2,390.0h.7M385.8,390.5h.7M385.8,390.5h.7M385.3,393.7h.7M385.7,392.5h.7M386.1,388.0h.7M383.8,388.5h.7M387.3,392.4h.7M386.3,390.3h.7M385.4,386.6h.7M385.8,391.0h.7M386.5,390.3h.7M388.3,391.3h.7M386.9,388.0h.7M386.7,392.9h.7M386.5,390.6h.7M386.6,390.1h.7M387.5,388.1h.7M382.1,392.1h.7M384.8,386.3h.7M385.5,391.0h.7M388.1,392.4h.7M385.7,388.0h.7M384.8,391.9h.7M386.3,389.4h.7M386.7,390.8h.7M385.3,388.1h.7M386.7,393.6h.7M386.6,392.4h.7M385.7,389.2h.7M383.8,389.4h.7M386.8,387.6h.7M386.8,389.4h.7" stroke="#285a48" stroke-width="0.8" opacity="0.7"/>
<rect x="345.70" y="346.00" width="69.40" height="67.70" fill="none" stroke="#222" stroke-width="0.8"/>
<path d="M368.00,347.00 L402.50,345.50 L402.50,389.25 L368.00,390.50 Z" fill="none" stroke="#333" stroke-width="0.7"/>
<text x="345.10" y="352.40" font-size="6.9" text-anchor="end" fill="#1c1c1c">10<tspan dy="-2.7" font-size="4.97">5</tspan></text>
<text x="345.10" y="369.80" font-size="6.9" text-anchor="end" fill="#1c1c1c">10<tspan dy="-2.7" font-size="4.97">4</tspan></text>
<text x="345.10" y="388.30" font-size="6.9" text-anchor="end" fill="#1c1c1c">10<tspan dy="-2.7" font-size="4.97">3</tspan></text>
<text x="343.50" y="399.60" font-size="6.9" text-anchor="end" fill="#1c1c1c">0</text>
<text x="345.10" y="410.80" font-size="6.9" text-anchor="end" fill="#1c1c1c">−10<tspan dy="-2.7" font-size="4.97">3</tspan></text>
<line x1="344.10" y1="350.00" x2="345.70" y2="350.00" stroke="#111" stroke-width="0.7"/>
<line x1="344.10" y1="367.50" x2="345.70" y2="367.50" stroke="#111" stroke-width="0.7"/>
<line x1="344.10" y1="386.00" x2="345.70" y2="386.00" stroke="#111" stroke-width="0.7"/>
<line x1="344.10" y1="397.50" x2="345.70" y2="397.50" stroke="#111" stroke-width="0.7"/>
<line x1="344.10" y1="408.70" x2="345.70" y2="408.70" stroke="#111" stroke-width="0.7"/>
<line x1="344.50" y1="397.50" x2="345.70" y2="397.50" stroke="#111" stroke-width="1.6"/>
<text x="350.70" y="423.20" font-size="6.9" text-anchor="middle" fill="#1c1c1c">−10<tspan dy="-2.7" font-size="4.97">3</tspan></text>
<text x="361.50" y="423.20" font-size="6.9" text-anchor="middle" fill="#1c1c1c">0</text>
<text x="375.70" y="423.20" font-size="6.9" text-anchor="middle" fill="#1c1c1c">10<tspan dy="-2.7" font-size="4.97">3</tspan></text>
<text x="393.20" y="423.20" font-size="6.9" text-anchor="middle" fill="#1c1c1c">10<tspan dy="-2.7" font-size="4.97">4</tspan></text>
<text x="410.70" y="423.20" font-size="6.9" text-anchor="middle" fill="#1c1c1c">10<tspan dy="-2.7" font-size="4.97">5</tspan></text>
<line x1="350.70" y1="413.70" x2="350.70" y2="415.30" stroke="#111" stroke-width="0.7"/>
<line x1="361.50" y1="413.70" x2="361.50" y2="415.30" stroke="#111" stroke-width="0.7"/>
<line x1="374.70" y1="413.70" x2="374.70" y2="415.30" stroke="#111" stroke-width="0.7"/>
<line x1="392.20" y1="413.70" x2="392.20" y2="415.30" stroke="#111" stroke-width="0.7"/>
<line x1="409.70" y1="413.70" x2="409.70" y2="415.30" stroke="#111" stroke-width="0.7"/>
<line x1="361.50" y1="413.70" x2="361.50" y2="415.10" stroke="#111" stroke-width="1.6"/>
<text x="384.30" y="433.20" font-size="7.0" text-anchor="middle" fill="#1c1c1c">525/20</text>
<text x="330.50" y="379.00" font-size="7.4" text-anchor="middle" fill="#1c1c1c" transform="rotate(-90 330.50 379.00)">450/50</text>
<text x="381.70" y="343.00" font-size="8.6" text-anchor="middle" fill="#1c1c1c">DMSO</text>
<text x="347.50" y="405.00" font-size="6.4" text-anchor="start" fill="#1c1c1c">Cleaved off</text>
<text x="347.50" y="411.30" font-size="6.6" text-anchor="start" fill="#1c1c1c">69,3</text>
<path d="M480.7,379.3h.7M481.6,365.0h.7M474.1,372.7h.7M482.4,356.8h.7M480.4,369.1h.7M481.0,365.0h.7M477.8,368.2h.7M481.3,360.0h.7M489.0,370.7h.7M485.6,365.9h.7M486.4,357.9h.7M481.0,358.6h.7M483.2,381.3h.7M483.5,384.1h.7M479.3,361.3h.7M475.2,372.5h.7M490.7,370.5h.7M480.6,378.3h.7M483.2,362.4h.7M490.4,382.7h.7M480.6,363.9h.7M485.1,370.2h.7M478.0,377.5h.7M481.1,357.7h.7M482.3,387.2h.7M476.4,371.0h.7M479.6,370.2h.7M480.1,358.0h.7M488.7,385.4h.7M482.8,364.5h.7M483.1,361.8h.7M481.0,371.6h.7M487.3,370.5h.7M481.9,391.0h.7M485.7,384.7h.7M483.6,388.5h.7M484.7,382.6h.7M475.5,363.4h.7M478.0,376.6h.7M479.5,383.1h.7M481.2,363.6h.7M481.1,379.5h.7M487.7,355.7h.7M478.5,388.6h.7M480.3,372.5h.7M486.4,388.7h.7M479.2,374.2h.7M487.8,358.2h.7M480.0,364.9h.7M480.1,367.9h.7M483.1,380.5h.7M478.3,373.1h.7M481.1,368.1h.7M487.4,379.0h.7M484.5,388.9h.7M491.0,368.5h.7M486.1,355.4h.7M483.6,391.3h.7M477.1,389.9h.7M477.2,360.3h.7M478.6,385.0h.7M483.8,360.7h.7M489.6,377.7h.7M486.4,365.5h.7M495.3,369.5h.7M482.0,352.3h.7M490.5,378.6h.7M485.4,365.5h.7M488.1,384.2h.7M484.1,375.9h.7M485.4,392.3h.7M478.7,380.0h.7M486.1,371.2h.7M492.2,386.0h.7M483.0,366.8h.7M486.3,385.6h.7M482.7,381.1h.7M482.4,380.0h.7M478.3,376.9h.7M485.3,367.3h.7M478.6,375.7h.7M484.9,369.7h.7M483.8,373.9h.7M491.5,373.7h.7M484.7,376.1h.7M487.4,375.8h.7M487.2,357.3h.7M483.5,391.1h.7M482.7,370.1h.7M482.4,380.5h.7M494.0,372.2h.7M490.2,367.1h.7M482.7,380.1h.7M478.3,368.2h.7M481.4,377.2h.7M478.6,376.7h.7M489.4,373.3h.7M481.8,379.3h.7M479.3,360.3h.7M492.3,374.7h.7M482.6,379.6h.7M482.2,386.8h.7M475.8,355.7h.7M484.7,377.6h.7M477.6,374.0h.7M491.8,356.8h.7M474.8,377.2h.7M486.4,384.7h.7M483.3,393.3h.7M486.7,368.8h.7M487.1,372.3h.7M478.0,384.2h.7M488.6,362.7h.7M482.4,386.3h.7M481.4,368.5h.7M475.8,387.2h.7M477.8,381.7h.7M484.8,392.4h.7M480.0,385.9h.7M480.5,364.1h.7M481.8,366.5h.7M479.7,378.2h.7M486.8,372.7h.7M482.0,369.7h.7M485.8,370.6h.7M481.8,377.5h.7M484.7,378.3h.7M479.2,381.3h.7M484.5,383.4h.7M491.7,377.3h.7M485.1,382.3h.7M488.8,377.5h.7M478.7,386.4h.7M482.3,373.8h.7M485.6,368.2h.7M491.9,367.0h.7M489.2,373.7h.7M480.5,374.9h.7M481.7,378.6h.7M485.7,378.2h.7M482.8,377.4h.7M478.5,369.5h.7M482.6,367.9h.7M490.1,378.3h.7M485.6,359.4h.7M484.3,376.9h.7M483.8,385.4h.7M489.8,373.7h.7M486.5,387.9h.7M482.3,394.8h.7M484.4,394.2h.7M472.7,390.0h.7M485.8,365.2h.7M487.5,383.5h.7M489.2,358.0h.7M485.3,373.3h.7M489.9,374.4h.7M483.2,369.5h.7M481.0,370.2h.7M486.0,377.1h.7M472.3,382.7h.7M481.9,374.8h.7M483.7,387.1h.7M482.4,366.8h.7M481.1,374.5h.7M486.7,368.3h.7M473.9,358.3h.7M478.7,372.0h.7M489.6,370.3h.7M481.0,372.3h.7M486.5,377.2h.7M483.9,375.9h.7M486.4,368.5h.7M483.8,366.1h.7M486.6,376.3h.7M480.9,380.8h.7M481.6,382.6h.7M486.8,392.3h.7M483.0,372.6h.7M480.0,392.0h.7M484.5,386.4h.7M481.7,384.5h.7M483.4,367.8h.7M476.2,384.9h.7M488.2,380.0h.7M481.5,365.6h.7M482.2,381.5h.7M485.4,373.4h.7M490.6,360.6h.7M476.9,385.2h.7M480.1,374.3h.7M478.8,393.0h.7M487.2,391.9h.7M483.8,374.6h.7M482.5,371.8h.7M489.0,363.8h.7M481.6,378.2h.7M481.8,362.8h.7M484.3,375.9h.7M480.0,374.5h.7M484.7,376.0h.7M478.5,374.2h.7M476.7,375.9h.7M485.1,369.4h.7M479.3,391.6h.7M478.3,376.1h.7M478.9,388.8h.7M479.2,376.6h.7M479.3,380.3h.7M480.2,379.0h.7M485.2,374.8h.7M470.7,371.7h.7M483.4,386.9h.7M478.8,372.0h.7M476.8,360.6h.7M481.2,381.2h.7M481.3,361.6h.7M482.4,375.7h.7M471.7,356.2h.7M476.1,359.5h.7M483.6,382.9h.7M489.2,366.8h.7M479.8,370.5h.7M478.0,367.4h.7M487.1,389.1h.7M480.0,364.4h.7M479.5,384.7h.7M488.6,380.3h.7M488.6,381.5h.7M485.1,387.3h.7M484.5,369.7h.7M482.2,375.2h.7M470.1,379.4h.7M485.1,373.4h.7M475.8,381.7h.7M480.0,386.7h.7M487.8,355.9h.7M487.1,367.6h.7M477.9,379.9h.7M484.4,372.9h.7M487.3,361.6h.7M479.7,369.4h.7M485.9,387.2h.7M480.8,383.4h.7M475.7,379.5h.7M480.7,380.3h.7M489.3,369.9h.7M478.9,367.7h.7M487.5,366.3h.7M482.2,364.9h.7M482.2,353.5h.7M479.4,374.7h.7M493.1,381.1h.7M477.3,377.6h.7M480.8,384.4h.7M481.8,363.6h.7M485.0,375.4h.7M485.0,383.4h.7M484.4,357.2h.7M482.4,372.0h.7M480.7,373.7h.7M482.1,380.0h.7M486.2,363.7h.7M478.1,369.2h.7M488.6,358.9h.7M488.2,381.1h.7M489.8,375.9h.7M474.9,390.6h.7M486.7,369.4h.7M479.9,378.5h.7M483.0,378.9h.7M484.6,385.7h.7M480.0,371.5h.7M483.7,363.2h.7M481.9,380.6h.7M472.3,355.1h.7M484.3,374.9h.7M475.6,375.5h.7M484.7,361.9h.7M475.9,374.1h.7M482.8,366.3h.7M483.4,388.0h.7M481.6,375.7h.7M478.2,377.3h.7M486.6,360.6h.7M478.9,367.6h.7M485.4,355.6h.7M486.0,386.9h.7M487.4,373.0h.7M486.9,370.4h.7M484.0,367.3h.7M478.5,375.3h.7M496.0,366.8h.7M486.7,370.9h.7M477.2,372.3h.7M479.6,379.8h.7M479.9,384.3h.7M483.5,376.8h.7M481.6,383.8h.7M479.3,379.8h.7M482.7,383.1h.7M487.5,374.2h.7M481.9,370.7h.7M476.3,368.3h.7M488.1,379.3h.7M493.7,373.6h.7M486.4,371.1h.7M482.0,360.1h.7M486.0,371.2h.7M485.7,376.2h.7M481.1,360.4h.7M492.7,352.7h.7M482.7,371.0h.7M489.8,379.0h.7M479.7,361.0h.7M478.2,371.5h.7M490.8,364.4h.7M479.6,359.8h.7M488.4,375.8h.7M477.0,377.0h.7M480.0,365.6h.7M480.8,373.0h.7M482.3,378.0h.7M479.7,381.7h.7M474.9,391.5h.7M481.1,362.7h.7M481.3,363.5h.7M488.3,377.0h.7M481.1,379.7h.7M482.8,377.3h.7M485.8,394.4h.7M482.4,371.8h.7M494.4,389.5h.7M484.1,358.9h.7M483.1,386.0h.7M480.7,376.0h.7M489.7,371.3h.7M484.3,371.6h.7M483.5,369.4h.7M484.4,367.3h.7M486.2,365.9h.7M491.5,370.1h.7M489.2,375.2h.7M482.3,379.0h.7M485.4,365.5h.7M479.6,375.5h.7M481.5,370.4h.7M480.3,391.6h.7M482.7,372.1h.7M483.8,379.7h.7M479.4,385.8h.7M487.4,375.6h.7M477.2,373.7h.7M482.1,366.4h.7M486.1,362.0h.7M486.2,385.1h.7M478.0,381.6h.7M487.1,367.0h.7M483.1,375.9h.7M483.8,380.4h.7M484.6,379.0h.7M481.5,365.7h.7M492.4,376.3h.7M480.6,366.4h.7M483.0,369.2h.7M481.9,363.2h.7M485.7,379.1h.7M484.9,376.1h.7M480.5,394.4h.7M488.2,383.0h.7M481.0,368.7h.7M478.3,388.0h.7M479.1,384.5h.7M484.0,376.2h.7M475.9,382.1h.7M482.8,368.9h.7M482.8,383.0h.7M482.0,380.6h.7M484.8,369.3h.7M486.7,374.0h.7M490.5,373.5h.7M482.7,364.3h.7M479.8,391.5h.7M483.3,385.1h.7M486.9,354.0h.7M477.0,392.2h.7M481.1,358.4h.7M478.5,380.9h.7M482.9,386.1h.7M482.4,371.5h.7M484.8,381.1h.7M483.6,359.9h.7M484.9,383.6h.7M491.6,370.2h.7M478.2,371.1h.7M480.0,363.4h.7M486.3,370.8h.7M482.6,372.4h.7M483.5,383.3h.7M482.8,359.7h.7M479.6,382.9h.7M478.9,353.2h.7M487.9,373.9h.7M481.9,368.6h.7M475.2,369.0h.7M480.7,374.8h.7M483.7,374.9h.7M491.8,362.3h.7M483.2,383.6h.7M487.4,375.8h.7M477.7,391.9h.7M481.9,370.2h.7M479.2,366.6h.7M478.0,392.6h.7M476.3,376.0h.7M480.7,367.7h.7M474.2,354.3h.7M480.3,381.8h.7M475.7,372.4h.7M481.0,366.1h.7M492.5,363.0h.7M488.6,375.9h.7M484.2,374.5h.7M486.7,371.9h.7M489.7,386.3h.7M487.6,377.6h.7M486.7,373.7h.7M477.8,371.0h.7M485.4,393.8h.7M475.6,357.7h.7M478.8,369.7h.7M493.2,373.9h.7M477.1,376.5h.7M480.9,394.1h.7M477.3,384.8h.7M476.5,374.8h.7M481.3,368.4h.7M486.8,374.9h.7M481.9,367.6h.7M482.6,383.8h.7M486.1,366.7h.7M486.4,379.6h.7M480.3,372.5h.7M484.3,357.6h.7M487.4,387.4h.7M479.8,391.0h.7M483.3,392.9h.7M487.3,373.3h.7M483.5,390.6h.7M482.1,376.4h.7M479.3,388.0h.7M488.1,362.2h.7M486.9,380.4h.7M482.6,372.8h.7M493.8,375.8h.7M485.9,373.5h.7M481.9,382.0h.7M483.5,377.0h.7M474.8,383.2h.7M480.8,377.5h.7M477.1,385.7h.7M487.2,368.6h.7M475.3,390.5h.7M490.8,370.0h.7M490.7,381.5h.7M492.2,363.9h.7M485.8,392.1h.7M481.4,376.2h.7M477.5,390.2h.7M479.2,374.5h.7M482.1,365.5h.7M492.7,372.4h.7M488.9,366.6h.7M486.7,366.4h.7M483.7,370.4h.7M476.1,363.9h.7M477.7,368.0h.7M475.3,361.7h.7M481.3,383.0h.7M483.8,376.3h.7M490.4,386.4h.7M486.1,380.4h.7M483.3,368.9h.7M489.1,385.8h.7M492.1,376.2h.7M479.3,378.0h.7M489.8,357.9h.7M485.3,378.5h.7M486.6,368.4h.7M479.6,382.5h.7M475.6,369.8h.7M475.7,368.9h.7M474.0,372.7h.7M481.1,375.0h.7M479.5,375.7h.7M485.0,396.5h.7M482.4,376.0h.7M470.2,365.3h.7M483.6,370.1h.7M477.5,389.0h.7M486.2,378.3h.7M488.5,379.6h.7M478.8,369.0h.7M481.6,378.7h.7M482.8,370.0h.7M480.7,384.7h.7M478.8,384.2h.7M481.9,378.3h.7M484.7,361.0h.7M472.9,370.0h.7M486.3,388.2h.7M479.4,389.8h.7M495.8,372.0h.7M484.4,385.4h.7M484.4,356.3h.7M477.7,393.1h.7M484.5,379.0h.7M475.5,380.9h.7M488.4,364.4h.7M486.4,388.8h.7M484.0,368.6h.7M481.5,379.1h.7M484.0,376.6h.7M490.5,388.4h.7M478.9,372.7h.7M478.4,383.4h.7M476.0,373.9h.7M481.5,360.9h.7M490.4,376.1h.7M487.6,372.2h.7M480.8,376.8h.7M491.2,392.3h.7M476.2,361.2h.7M482.8,384.4h.7M481.1,364.5h.7M482.1,384.3h.7M487.7,362.8h.7M480.5,373.2h.7M485.8,367.7h.7M487.2,378.9h.7M481.2,377.3h.7M484.1,371.3h.7M485.7,376.8h.7M491.7,367.4h.7M485.7,380.0h.7M474.8,365.3h.7M484.3,356.1h.7M476.8,380.0h.7M481.3,362.2h.7M483.0,381.5h.7M485.3,369.6h.7M471.6,377.6h.7M477.9,388.3h.7M479.7,388.6h.7M487.7,378.7h.7M491.0,367.9h.7M478.1,378.4h.7M482.9,366.1h.7M481.9,383.7h.7M480.5,360.0h.7M482.8,377.1h.7M480.8,381.8h.7M482.6,378.8h.7M495.6,377.4h.7M483.1,389.5h.7M486.7,378.7h.7M480.9,376.7h.7M491.3,383.4h.7M476.5,361.3h.7M480.5,374.9h.7M480.0,366.9h.7M485.3,372.4h.7M486.1,367.7h.7M484.8,384.4h.7M481.0,373.3h.7M480.6,359.0h.7M482.3,392.0h.7M473.3,374.8h.7M490.6,381.3h.7M486.5,384.4h.7M478.5,368.9h.7M470.3,367.2h.7M485.5,375.2h.7M483.4,388.0h.7M489.4,373.6h.7M484.8,377.5h.7M483.0,371.4h.7M478.2,376.8h.7M479.1,385.4h.7M486.1,371.5h.7M487.2,386.9h.7M479.7,379.9h.7M486.8,362.4h.7M479.6,357.7h.7M484.7,371.9h.7M479.0,378.6h.7M481.7,372.1h.7M481.3,363.5h.7M482.7,384.9h.7M483.4,358.0h.7M486.4,382.6h.7M487.7,387.6h.7M476.2,373.3h.7M487.4,357.7h.7M478.8,368.3h.7M476.7,381.3h.7M477.9,369.8h.7M479.5,364.7h.7M481.3,373.2h.7M489.5,366.8h.7M483.7,390.1h.7M484.7,367.1h.7M474.6,362.8h.7M491.7,359.1h.7M485.4,378.7h.7M482.3,371.6h.7M481.3,382.0h.7M476.5,381.6h.7M483.1,395.4h.7M493.1,375.4h.7M481.4,371.4h.7M482.2,388.3h.7M475.0,369.5h.7M482.0,361.4h.7M493.0,390.9h.7M477.8,369.2h.7M476.6,373.1h.7M487.9,375.4h.7M478.0,366.6h.7M494.9,365.5h.7M479.6,372.2h.7M485.3,376.3h.7M477.6,381.9h.7M487.4,380.3h.7M480.3,384.8h.7M481.6,378.8h.7M487.5,376.9h.7M478.0,379.1h.7M473.9,391.0h.7M483.4,384.2h.7M475.9,375.5h.7M480.6,361.1h.7M482.1,388.8h.7M481.0,359.9h.7M476.7,375.5h.7M480.7,370.3h.7M482.1,380.8h.7M483.1,360.4h.7M493.2,371.8h.7M488.5,357.0h.7M482.5,379.4h.7M482.1,378.3h.7M485.1,364.9h.7M481.1,380.6h.7M487.0,368.5h.7M474.6,387.7h.7M474.5,387.0h.7M477.3,378.0h.7M487.3,377.8h.7M482.7,363.0h.7M484.9,384.0h.7M467.0,376.5h.7M469.8,389.9h.7M484.4,372.4h.7M489.8,372.2h.7M480.2,383.0h.7M477.4,358.3h.7M476.2,387.6h.7M484.6,374.2h.7M483.4,378.1h.7M481.3,361.9h.7M490.2,393.9h.7M492.2,370.0h.7M483.5,374.7h.7M492.2,386.3h.7M483.4,379.9h.7M490.6,373.0h.7M476.4,377.6h.7M484.3,353.5h.7M475.1,376.7h.7M484.6,376.7h.7M487.8,361.7h.7M487.1,374.8h.7M488.7,378.2h.7M488.6,364.9h.7M475.9,372.2h.7M481.7,374.7h.7M490.4,390.5h.7M490.6,370.2h.7M485.0,373.7h.7M481.8,379.9h.7M487.2,378.7h.7M485.5,360.8h.7M482.0,377.2h.7M481.5,368.3h.7M479.3,360.3h.7M488.4,373.1h.7M478.4,369.9h.7M482.1,388.3h.7M479.4,354.8h.7M485.7,374.3h.7M477.6,368.9h.7M479.1,373.2h.7M477.3,354.4h.7M487.0,358.8h.7M472.6,374.3h.7M478.2,355.5h.7M483.4,361.8h.7M490.7,380.9h.7M484.9,361.2h.7M481.9,363.1h.7M485.5,356.0h.7M481.5,376.8h.7M489.7,368.0h.7M479.4,366.5h.7M470.6,365.6h.7M481.7,363.3h.7M482.7,357.6h.7M479.2,366.1h.7M479.2,357.1h.7M486.0,383.4h.7M484.0,376.7h.7M484.2,375.2h.7M485.2,386.0h.7M473.2,363.5h.7M480.3,389.5h.7M487.1,362.0h.7M486.1,364.9h.7M486.0,378.1h.7M472.9,386.9h.7M483.8,357.4h.7M480.1,372.9h.7M486.2,374.8h.7M481.7,375.7h.7M478.6,370.8h.7M486.6,386.5h.7M491.5,377.2h.7M477.9,365.6h.7M484.6,384.5h.7M482.5,370.4h.7M485.1,374.5h.7M485.3,393.8h.7M480.9,378.9h.7M481.4,379.2h.7M485.3,356.5h.7M480.1,368.5h.7M484.7,385.8h.7M480.9,360.0h.7M484.5,375.6h.7M484.9,374.8h.7M487.1,386.3h.7M484.4,357.1h.7M477.4,380.7h.7M485.7,383.0h.7M482.0,376.3h.7M478.6,366.7h.7M481.8,360.7h.7M477.3,372.8h.7M478.6,386.2h.7M479.1,393.2h.7M487.4,382.3h.7M479.2,376.3h.7M488.0,381.9h.7M480.0,380.6h.7M478.6,368.0h.7M488.2,359.9h.7M483.5,375.7h.7M487.0,378.8h.7M486.2,379.6h.7M480.7,355.7h.7M475.2,387.6h.7M478.2,363.6h.7M474.7,377.4h.7M483.5,365.5h.7M489.0,379.6h.7M479.8,377.3h.7M480.3,363.4h.7M482.0,351.3h.7M482.0,374.1h.7M490.2,383.9h.7M484.6,369.9h.7M486.5,381.4h.7M484.4,374.5h.7M485.9,369.2h.7M473.0,364.6h.7M487.9,377.1h.7M490.6,370.2h.7M481.7,374.1h.7M482.1,372.9h.7M488.6,391.7h.7M477.8,388.0h.7M476.3,370.8h.7M486.8,368.8h.7M482.1,376.4h.7M489.5,376.5h.7M480.5,386.3h.7M481.0,359.4h.7M481.5,374.9h.7M488.3,364.3h.7M483.7,367.0h.7" stroke="#4a8cc8" stroke-width="0.75" opacity="0.62"/>
<path d="M481.6,391.7h.7M485.9,378.1h.7M482.8,383.5h.7M484.3,383.9h.7M484.8,368.8h.7M481.8,375.6h.7M483.5,382.9h.7M480.1,379.1h.7M487.0,380.1h.7M482.7,386.3h.7M484.4,380.5h.7M484.3,387.4h.7M482.5,376.4h.7M483.0,379.3h.7M482.0,382.4h.7M483.1,388.8h.7M487.3,384.4h.7M485.0,367.7h.7M483.8,370.2h.7M485.1,377.3h.7M483.1,385.0h.7M481.4,384.2h.7M484.3,376.7h.7M487.0,370.5h.7M479.8,381.5h.7M484.6,367.9h.7M482.7,390.5h.7M484.7,382.7h.7M485.0,393.9h.7M482.2,404.8h.7M480.9,375.4h.7M485.1,373.6h.7M481.7,383.9h.7M482.5,360.5h.7M483.1,374.7h.7M482.1,378.4h.7M482.7,383.2h.7M488.1,384.1h.7M480.5,380.3h.7M487.0,380.7h.7M484.1,385.2h.7M479.8,373.7h.7M485.9,384.8h.7M481.1,390.5h.7M487.7,377.3h.7M483.2,366.5h.7M482.4,374.1h.7M484.0,387.9h.7M486.0,382.2h.7M484.4,384.4h.7M481.5,391.4h.7M480.1,379.8h.7M482.3,385.3h.7M480.7,370.8h.7M481.5,381.1h.7M483.6,379.5h.7M484.0,400.2h.7M485.4,379.2h.7M485.5,383.2h.7M476.8,381.8h.7M484.4,386.9h.7M480.5,376.0h.7M484.7,380.9h.7M485.3,377.7h.7M483.4,382.2h.7M484.9,383.6h.7M487.3,379.9h.7M486.8,385.8h.7M481.7,373.4h.7M481.8,384.5h.7M482.0,389.8h.7M483.8,370.4h.7M486.4,388.7h.7M482.4,385.7h.7M481.8,388.1h.7M485.4,372.1h.7M483.9,374.4h.7M482.5,372.3h.7M486.2,367.1h.7M480.4,373.4h.7M486.6,384.2h.7M486.2,380.2h.7M482.7,380.6h.7M488.2,382.9h.7M484.0,383.0h.7M483.5,382.5h.7M485.8,376.5h.7M485.2,378.5h.7M483.5,366.8h.7M484.2,376.1h.7M482.5,373.3h.7M480.3,382.2h.7M481.9,372.0h.7M485.1,376.8h.7M484.4,379.4h.7M485.5,378.2h.7M482.7,374.9h.7M484.3,388.9h.7M485.7,370.0h.7M484.5,382.1h.7M487.6,377.3h.7M482.0,382.6h.7M482.1,377.4h.7M483.3,379.1h.7M481.0,372.1h.7M481.8,382.7h.7M484.8,383.2h.7M487.8,385.2h.7M486.8,388.6h.7M480.9,371.1h.7M487.4,373.2h.7M483.1,369.4h.7M487.4,380.0h.7M483.0,373.8h.7M482.7,386.9h.7M482.1,373.1h.7M481.7,365.5h.7M477.2,394.4h.7M487.5,386.0h.7M484.4,388.6h.7M483.1,379.0h.7M483.3,378.8h.7M483.0,366.6h.7M486.5,380.9h.7M486.6,384.8h.7M481.1,374.7h.7M482.5,385.9h.7M483.4,381.5h.7M484.3,390.8h.7M479.9,391.4h.7M482.2,378.0h.7M483.2,381.7h.7M486.1,368.6h.7M484.9,368.7h.7M487.6,359.2h.7M486.0,402.1h.7M480.4,381.2h.7M485.6,381.1h.7M482.4,379.7h.7M483.5,383.8h.7M484.0,384.3h.7M478.8,382.7h.7M482.6,381.6h.7M484.9,387.4h.7M486.0,383.6h.7M482.5,386.8h.7M482.3,386.5h.7M484.1,389.8h.7M481.5,375.2h.7M486.4,382.2h.7M484.1,390.8h.7M481.6,390.3h.7M481.4,381.9h.7M482.5,385.4h.7M483.0,379.6h.7M480.2,392.0h.7M483.6,375.7h.7M484.2,372.6h.7M483.4,368.3h.7M481.4,391.3h.7M487.3,371.0h.7M483.3,381.4h.7M482.7,376.0h.7M484.2,382.8h.7M487.4,374.0h.7M483.7,372.4h.7M485.8,381.1h.7M486.5,380.9h.7M482.5,382.5h.7M486.5,371.0h.7M488.0,370.0h.7M482.4,377.6h.7M484.3,383.8h.7M483.7,375.5h.7M481.9,397.6h.7M483.9,383.1h.7M483.9,378.8h.7M483.1,370.3h.7M479.5,377.2h.7M481.8,378.4h.7M481.9,364.9h.7M481.7,376.9h.7M483.7,377.6h.7M483.4,385.9h.7M482.9,379.8h.7M484.2,378.8h.7M486.8,367.9h.7M484.1,382.1h.7M486.1,384.5h.7M483.0,392.3h.7M481.6,372.8h.7M483.2,379.7h.7M484.6,365.6h.7M481.3,369.3h.7M483.9,391.6h.7M487.4,385.3h.7M485.1,380.6h.7M484.4,379.0h.7M484.3,383.5h.7M487.0,377.6h.7M484.2,381.2h.7M483.2,368.8h.7M484.0,387.1h.7M481.8,387.7h.7M482.8,376.5h.7M484.4,387.8h.7M482.2,374.2h.7M480.5,382.7h.7M485.2,381.1h.7M483.4,375.0h.7M484.7,380.3h.7M484.5,382.6h.7M481.9,385.2h.7M485.5,378.4h.7M485.2,384.3h.7M485.7,377.4h.7M485.9,382.0h.7M481.3,375.4h.7M484.1,378.5h.7M481.0,367.3h.7M481.1,386.4h.7M484.3,373.7h.7M481.7,387.0h.7M482.7,384.3h.7M480.8,373.6h.7M485.6,383.2h.7M481.6,393.9h.7M487.2,385.7h.7M485.4,385.7h.7M484.2,389.0h.7M483.1,381.6h.7M485.2,368.2h.7M481.4,382.7h.7M482.3,384.4h.7M484.5,390.3h.7M482.5,381.6h.7M480.6,377.6h.7M483.0,380.9h.7M483.9,396.0h.7M485.5,385.9h.7M479.3,369.7h.7M480.2,382.1h.7M482.1,373.5h.7M482.0,387.3h.7M485.2,380.2h.7M482.6,389.5h.7M488.0,381.7h.7M484.7,377.8h.7M487.2,387.9h.7M479.4,381.2h.7M484.3,385.2h.7M484.6,374.3h.7M484.8,382.7h.7M482.4,386.0h.7M479.7,389.4h.7M482.5,378.3h.7M487.1,395.0h.7M482.1,377.8h.7M483.4,379.8h.7M485.7,389.0h.7M484.3,394.0h.7M486.2,383.7h.7M480.0,381.0h.7M487.4,382.0h.7M488.3,377.3h.7M487.3,373.7h.7M488.3,370.6h.7M481.0,368.9h.7M482.9,373.6h.7M479.8,380.3h.7M484.1,386.6h.7M481.8,387.5h.7M482.9,376.1h.7M482.4,371.2h.7M487.9,384.8h.7M483.9,365.0h.7M483.3,374.4h.7M484.2,381.0h.7M483.7,396.5h.7M482.2,369.8h.7M484.7,383.0h.7M481.5,386.6h.7M478.2,390.2h.7M480.7,374.1h.7M480.0,383.9h.7M482.8,387.8h.7M481.5,390.6h.7M482.1,372.8h.7M479.4,377.5h.7M487.4,367.3h.7M484.6,383.2h.7M480.8,383.6h.7M484.7,377.7h.7M483.7,381.4h.7M479.9,379.0h.7M483.0,386.4h.7M481.8,372.4h.7M486.3,375.0h.7M478.0,374.3h.7M483.4,374.1h.7M479.8,379.4h.7M479.9,391.0h.7M477.4,373.4h.7M482.7,380.6h.7M484.8,381.4h.7M485.6,374.9h.7M481.5,379.5h.7M482.9,370.0h.7M485.7,386.4h.7M485.0,370.6h.7M483.1,368.6h.7M482.1,377.0h.7M484.0,377.4h.7M486.3,388.1h.7M482.3,399.7h.7M486.9,375.2h.7M481.9,392.9h.7M485.6,372.7h.7M487.5,376.2h.7M486.3,379.1h.7M486.5,385.1h.7M483.7,372.2h.7M489.9,373.5h.7M482.4,372.7h.7M484.5,381.3h.7M485.3,377.9h.7M484.7,370.6h.7M486.0,375.7h.7M482.5,373.5h.7M483.0,372.8h.7M484.1,389.1h.7M486.5,375.5h.7M483.4,379.9h.7M482.2,380.5h.7M483.4,381.8h.7M485.9,388.3h.7M484.6,381.9h.7M484.6,380.9h.7M483.0,382.4h.7M483.6,382.6h.7M481.0,376.7h.7M486.4,380.1h.7M482.9,382.9h.7M484.2,376.5h.7M484.4,389.5h.7M486.4,381.8h.7M484.2,367.9h.7M483.5,393.6h.7M483.7,377.6h.7M482.8,391.2h.7M483.9,376.8h.7M480.2,378.8h.7M482.9,380.0h.7M484.0,377.4h.7M480.4,370.5h.7M484.1,374.9h.7M484.5,380.0h.7M479.7,385.0h.7M483.1,395.3h.7M481.6,382.6h.7M482.3,386.6h.7M484.8,373.5h.7M484.5,383.7h.7M482.5,394.7h.7M482.4,375.2h.7M488.9,382.5h.7M483.2,377.0h.7M483.8,368.5h.7M486.8,369.7h.7M485.7,384.0h.7M480.2,380.5h.7M480.8,378.3h.7M482.3,380.2h.7M485.7,380.9h.7M485.0,363.8h.7M485.5,379.4h.7M485.0,373.4h.7M479.9,375.6h.7M484.9,386.2h.7M480.5,372.9h.7M485.3,372.6h.7M482.7,377.9h.7M484.2,388.4h.7M481.7,367.0h.7M483.0,371.3h.7M484.0,381.7h.7M484.3,386.0h.7M487.6,375.4h.7M483.0,376.0h.7M483.6,387.5h.7M484.5,379.6h.7M481.9,380.5h.7M484.0,384.0h.7M482.3,369.8h.7M484.3,391.9h.7M482.7,367.4h.7M484.8,388.2h.7M481.0,372.1h.7M483.1,373.5h.7M487.0,369.1h.7M482.2,373.7h.7M481.7,390.6h.7M485.9,377.4h.7M480.9,371.8h.7M478.8,379.2h.7M483.4,382.9h.7M483.7,383.4h.7M482.3,388.8h.7M485.3,374.0h.7M486.0,380.3h.7M482.6,386.1h.7M481.2,387.2h.7M486.7,378.6h.7M479.0,391.4h.7M483.6,372.1h.7M484.3,379.4h.7M486.1,379.8h.7M485.2,388.6h.7M481.5,387.0h.7M483.8,385.7h.7" stroke="#3fa878" stroke-width="0.75" opacity="0.68"/>
<path d="M483.3,377.3h.7M482.7,377.0h.7M482.2,378.5h.7M482.6,374.3h.7M482.8,378.8h.7M483.2,376.8h.7M483.4,384.1h.7M484.9,372.7h.7M484.1,385.1h.7M484.4,390.5h.7M483.3,373.6h.7M483.2,379.0h.7M483.0,377.4h.7M481.8,382.8h.7M481.6,370.5h.7M483.5,374.9h.7M482.3,380.5h.7M484.3,384.6h.7M483.6,381.5h.7M483.7,376.2h.7M484.2,379.1h.7M483.3,382.6h.7M482.1,375.5h.7M478.8,378.0h.7M484.8,370.3h.7M481.3,375.3h.7M485.8,373.0h.7M483.8,376.4h.7M482.9,372.4h.7M482.6,384.2h.7M483.6,376.9h.7M483.6,375.8h.7M486.6,381.6h.7M481.8,375.8h.7M482.8,376.9h.7M482.6,381.0h.7M482.5,394.2h.7M482.4,386.7h.7M483.6,377.6h.7M485.3,383.5h.7M483.5,379.1h.7M484.8,375.7h.7M483.4,375.1h.7M481.7,390.5h.7M483.9,370.7h.7M481.1,377.3h.7M483.7,381.0h.7M484.2,379.9h.7M482.6,382.3h.7M485.6,370.9h.7M481.7,378.1h.7M483.5,372.2h.7M482.7,384.3h.7M481.6,377.3h.7M483.3,372.4h.7M481.3,376.5h.7M483.3,384.2h.7M485.0,373.1h.7M481.8,384.2h.7M484.7,392.4h.7M482.4,380.1h.7M484.3,380.8h.7M482.7,388.4h.7M483.6,377.2h.7M483.4,391.5h.7M482.3,374.8h.7M483.9,391.5h.7M484.7,377.2h.7M485.1,386.0h.7M483.2,383.2h.7M484.5,381.5h.7M484.5,386.0h.7M486.0,385.0h.7M484.2,379.5h.7M484.2,381.8h.7M483.4,377.0h.7M481.4,379.8h.7M483.7,380.7h.7M481.1,378.0h.7M482.1,377.5h.7M482.0,373.3h.7M482.1,372.3h.7M483.5,384.0h.7M484.5,374.3h.7M484.4,377.2h.7M482.9,381.1h.7M484.5,379.2h.7M480.8,380.3h.7M482.6,373.0h.7M483.6,382.1h.7M483.9,377.8h.7M483.2,379.9h.7M482.9,386.0h.7M485.0,390.6h.7M483.5,379.7h.7M482.5,382.9h.7M484.4,388.2h.7M485.7,387.8h.7M487.0,371.3h.7M484.6,371.1h.7M486.0,381.9h.7M481.9,382.0h.7M482.9,386.2h.7M482.6,376.7h.7M482.0,386.5h.7M484.4,387.0h.7M484.1,382.2h.7M484.5,379.1h.7M482.6,381.9h.7M480.5,381.6h.7M483.0,378.6h.7M485.6,382.7h.7M482.9,392.1h.7M482.8,375.2h.7M483.4,380.2h.7M484.2,382.7h.7M481.0,376.4h.7M482.2,381.8h.7M479.7,383.6h.7M483.0,369.9h.7M485.0,382.8h.7M478.9,394.2h.7M480.8,372.8h.7M483.8,375.2h.7M483.4,379.9h.7M481.7,379.9h.7M483.2,384.9h.7M483.9,379.3h.7M483.0,372.4h.7M483.5,384.0h.7M483.2,386.9h.7M482.1,374.0h.7M483.4,387.2h.7M483.6,379.7h.7M485.7,376.7h.7M484.2,385.8h.7M484.8,381.6h.7M483.3,370.7h.7M481.9,378.4h.7M485.2,381.8h.7M485.1,394.2h.7M484.2,369.1h.7M482.4,387.4h.7M482.3,385.4h.7M483.9,374.4h.7M484.0,386.6h.7M483.2,380.8h.7M483.1,386.5h.7M485.2,378.2h.7M482.0,379.5h.7M484.8,373.3h.7M482.9,388.1h.7M482.2,372.2h.7M484.3,375.0h.7M485.1,379.4h.7M482.6,380.7h.7M482.2,381.7h.7M485.8,382.5h.7M482.4,378.2h.7M481.2,390.8h.7M482.0,386.7h.7M484.5,382.4h.7M481.9,381.6h.7M483.6,376.4h.7M483.0,379.6h.7M482.7,380.0h.7M481.4,379.6h.7M482.0,382.7h.7M485.1,380.1h.7M483.5,374.8h.7M482.4,372.4h.7M485.1,380.8h.7M483.3,373.4h.7M484.4,376.1h.7M482.4,380.4h.7M485.0,386.2h.7M480.9,384.1h.7M482.3,382.8h.7M484.8,382.5h.7M484.0,373.6h.7M483.7,386.2h.7M482.5,383.2h.7M481.6,385.0h.7M483.9,377.1h.7M482.8,373.2h.7M483.9,392.6h.7M481.8,383.5h.7M480.8,374.2h.7M483.5,376.7h.7M482.7,380.7h.7" stroke="#98cc3c" stroke-width="0.7" opacity="0.7"/>
<rect x="440.90" y="346.00" width="69.40" height="67.70" fill="none" stroke="#222" stroke-width="0.8"/>
<path d="M462.25,347.00 L497.20,345.40 L497.20,388.20 L462.25,389.90 Z" fill="none" stroke="#333" stroke-width="0.7"/>
<text x="440.30" y="352.40" font-size="6.9" text-anchor="end" fill="#1c1c1c">10<tspan dy="-2.7" font-size="4.97">5</tspan></text>
<text x="440.30" y="369.80" font-size="6.9" text-anchor="end" fill="#1c1c1c">10<tspan dy="-2.7" font-size="4.97">4</tspan></text>
<text x="440.30" y="388.30" font-size="6.9" text-anchor="end" fill="#1c1c1c">10<tspan dy="-2.7" font-size="4.97">3</tspan></text>
<text x="438.70" y="399.60" font-size="6.9" text-anchor="end" fill="#1c1c1c">0</text>
<text x="440.30" y="410.80" font-size="6.9" text-anchor="end" fill="#1c1c1c">−10<tspan dy="-2.7" font-size="4.97">3</tspan></text>
<line x1="439.30" y1="350.00" x2="440.90" y2="350.00" stroke="#111" stroke-width="0.7"/>
<line x1="439.30" y1="367.50" x2="440.90" y2="367.50" stroke="#111" stroke-width="0.7"/>
<line x1="439.30" y1="386.00" x2="440.90" y2="386.00" stroke="#111" stroke-width="0.7"/>
<line x1="439.30" y1="397.50" x2="440.90" y2="397.50" stroke="#111" stroke-width="0.7"/>
<line x1="439.30" y1="408.70" x2="440.90" y2="408.70" stroke="#111" stroke-width="0.7"/>
<line x1="439.70" y1="397.50" x2="440.90" y2="397.50" stroke="#111" stroke-width="1.6"/>
<text x="445.90" y="423.20" font-size="6.9" text-anchor="middle" fill="#1c1c1c">−10<tspan dy="-2.7" font-size="4.97">3</tspan></text>
<text x="456.70" y="423.20" font-size="6.9" text-anchor="middle" fill="#1c1c1c">0</text>
<text x="470.90" y="423.20" font-size="6.9" text-anchor="middle" fill="#1c1c1c">10<tspan dy="-2.7" font-size="4.97">3</tspan></text>
<text x="488.40" y="423.20" font-size="6.9" text-anchor="middle" fill="#1c1c1c">10<tspan dy="-2.7" font-size="4.97">4</tspan></text>
<text x="505.90" y="423.20" font-size="6.9" text-anchor="middle" fill="#1c1c1c">10<tspan dy="-2.7" font-size="4.97">5</tspan></text>
<line x1="445.90" y1="413.70" x2="445.90" y2="415.30" stroke="#111" stroke-width="0.7"/>
<line x1="456.70" y1="413.70" x2="456.70" y2="415.30" stroke="#111" stroke-width="0.7"/>
<line x1="469.90" y1="413.70" x2="469.90" y2="415.30" stroke="#111" stroke-width="0.7"/>
<line x1="487.40" y1="413.70" x2="487.40" y2="415.30" stroke="#111" stroke-width="0.7"/>
<line x1="504.90" y1="413.70" x2="504.90" y2="415.30" stroke="#111" stroke-width="0.7"/>
<line x1="456.70" y1="413.70" x2="456.70" y2="415.10" stroke="#111" stroke-width="1.6"/>
<text x="480.60" y="433.20" font-size="7.0" text-anchor="middle" fill="#1c1c1c">525/20</text>
<text x="425.70" y="379.00" font-size="7.4" text-anchor="middle" fill="#1c1c1c" transform="rotate(-90 425.70 379.00)">450/50</text>
<text x="434.60" y="342.20" font-size="8.95" text-anchor="start" fill="#1c1c1c">AZD5582 (0.5 µmol/L)</text>
<text x="442.70" y="404.40" font-size="6.4" text-anchor="start" fill="#1c1c1c">Cleaved off</text>
<text x="442.70" y="411.00" font-size="6.6" text-anchor="start" fill="#1c1c1c">88,1</text>
</g>
<g id="panelJ">
<text x="2.40" y="482.60" font-size="13.2" text-anchor="start" font-weight="bold" fill="#000">J</text>
<text x="84.0" y="493.4" font-size="8.6" text-anchor="middle" fill="#1c1c1c">H-2K<tspan dy="-2.8" font-size="5.2">b</tspan></text>
<rect x="43.40" y="544.40" width="13.50" height="43.20" fill="#ee3f23" stroke="#0c1a2a" stroke-width="1.0"/>
<line x1="71.50" y1="537.30" x2="71.50" y2="534.00" stroke="#1a1a1a" stroke-width="1.1"/>
<line x1="67.81" y1="534.00" x2="75.19" y2="534.00" stroke="#1a1a1a" stroke-width="1.1"/>
<rect x="64.40" y="537.30" width="14.20" height="50.30" fill="#17599b" stroke="#0c1a2a" stroke-width="1.0"/>
<line x1="93.30" y1="532.00" x2="93.30" y2="529.80" stroke="#1a1a1a" stroke-width="1.1"/>
<line x1="89.61" y1="529.80" x2="96.99" y2="529.80" stroke="#1a1a1a" stroke-width="1.1"/>
<rect x="86.20" y="532.00" width="14.20" height="55.60" fill="#17599b" stroke="#0c1a2a" stroke-width="1.0"/>
<line x1="114.85" y1="526.50" x2="114.85" y2="524.40" stroke="#1a1a1a" stroke-width="1.1"/>
<line x1="111.13" y1="524.40" x2="118.57" y2="524.40" stroke="#1a1a1a" stroke-width="1.1"/>
<rect x="107.70" y="526.50" width="14.30" height="61.10" fill="#17599b" stroke="#0c1a2a" stroke-width="1.0"/>
<rect x="43.40" y="544.40" width="13.50" height="43.20" fill="#ee3f23" stroke="#ee3f23" stroke-width="0.8"/>
<line x1="35.60" y1="500.90" x2="35.60" y2="588.05" stroke="#111" stroke-width="1.0"/>
<line x1="35.15" y1="587.60" x2="129.00" y2="587.60" stroke="#111" stroke-width="1.0"/>
<line x1="32.20" y1="587.60" x2="35.60" y2="587.60" stroke="#111" stroke-width="1.0"/>
<text x="31.70" y="590.15" font-size="7.2" text-anchor="end" fill="#1c1c1c">0.0</text>
<line x1="32.20" y1="566.02" x2="35.60" y2="566.02" stroke="#111" stroke-width="1.0"/>
<text x="31.70" y="568.57" font-size="7.2" text-anchor="end" fill="#1c1c1c">0.5</text>
<line x1="32.20" y1="544.45" x2="35.60" y2="544.45" stroke="#111" stroke-width="1.0"/>
<text x="31.70" y="547.00" font-size="7.2" text-anchor="end" fill="#1c1c1c">1.0</text>
<line x1="32.20" y1="522.88" x2="35.60" y2="522.88" stroke="#111" stroke-width="1.0"/>
<text x="31.70" y="525.42" font-size="7.2" text-anchor="end" fill="#1c1c1c">1.5</text>
<line x1="32.20" y1="501.30" x2="35.60" y2="501.30" stroke="#111" stroke-width="1.0"/>
<text x="31.70" y="503.85" font-size="7.2" text-anchor="end" fill="#1c1c1c">2.0</text>
<line x1="50.15" y1="587.60" x2="50.15" y2="590.60" stroke="#111" stroke-width="1.0"/>
<line x1="71.50" y1="587.60" x2="71.50" y2="590.60" stroke="#111" stroke-width="1.0"/>
<line x1="93.30" y1="587.60" x2="93.30" y2="590.60" stroke="#111" stroke-width="1.0"/>
<line x1="114.85" y1="587.60" x2="114.85" y2="590.60" stroke="#111" stroke-width="1.0"/>
<line x1="50.20" y1="513.20" x2="115.20" y2="513.20" stroke="#222" stroke-width="1.1"/>
<line x1="50.20" y1="521.10" x2="93.40" y2="521.10" stroke="#222" stroke-width="1.1"/>
<line x1="50.20" y1="527.40" x2="72.20" y2="527.40" stroke="#222" stroke-width="1.1"/>
<text x="85.20" y="513.00" font-size="6.0" text-anchor="middle" fill="#1c1c1c">***</text>
<text x="70.50" y="520.60" font-size="6.0" text-anchor="middle" fill="#1c1c1c">**</text>
<text x="60.80" y="527.00" font-size="6.0" text-anchor="middle" fill="#1c1c1c">*</text>
<text x="53.45" y="596.60" font-size="7.3" text-anchor="end" fill="#1c1c1c" transform="rotate(-45 53.45 596.60)">DMSO</text>
<text x="74.80" y="596.60" font-size="7.3" text-anchor="end" fill="#1c1c1c" transform="rotate(-45 74.80 596.60)">0.1 µmol/L</text>
<text x="96.60" y="596.60" font-size="7.3" text-anchor="end" fill="#1c1c1c" transform="rotate(-45 96.60 596.60)">0.5 µmol/L</text>
<text x="118.15" y="596.60" font-size="7.3" text-anchor="end" fill="#1c1c1c" transform="rotate(-45 118.15 596.60)">1 µmol/L</text>
<text x="7.30" y="544.20" font-size="7.2" text-anchor="middle" fill="#1c1c1c" transform="rotate(-90 7.30 544.20)">Normalized expression</text>
<text x="15.60" y="544.20" font-size="7.2" text-anchor="middle" fill="#1c1c1c" transform="rotate(-90 15.60 544.20)">(to MFI GM-CSF DMSO)</text>
<line x1="55.60" y1="622.30" x2="126.20" y2="622.30" stroke="#222" stroke-width="0.9"/>
<text x="89.80" y="630.20" font-size="7.1" text-anchor="middle" fill="#1c1c1c">+AZD5582</text>
</g>
<g id="panelK">
<text x="135.20" y="447.50" font-size="13.2" text-anchor="start" font-weight="bold" fill="#000">K</text>
<defs><linearGradient id="cb" x1="0" x2="1" y1="0" y2="0"><stop offset="0" stop-color="#0b3a70"/><stop offset="0.14" stop-color="#1f64a8"/><stop offset="0.3" stop-color="#4a94c6"/><stop offset="0.45" stop-color="#a8cfe4"/><stop offset="0.58" stop-color="#f4f2f1"/><stop offset="0.7" stop-color="#f7c0a4"/><stop offset="0.82" stop-color="#e27a60"/><stop offset="0.92" stop-color="#c0303a"/><stop offset="1" stop-color="#7a0a22"/></linearGradient></defs>
<rect x="156.10" y="451.30" width="38.50" height="20.60" fill="url(#cb)"/>
<text x="155.80" y="478.10" font-size="5.5" text-anchor="middle" fill="#333" class="lt">−2.0</text>
<text x="167.40" y="478.10" font-size="5.5" text-anchor="middle" fill="#333" class="lt">−1.0</text>
<text x="178.60" y="478.10" font-size="5.5" text-anchor="middle" fill="#333" class="lt">0.0</text>
<text x="189.40" y="478.10" font-size="5.5" text-anchor="middle" fill="#333" class="lt">1.0</text>
<text x="168.00" y="492.00" font-size="6.3" text-anchor="middle" fill="#333" class="lt">AZD5582</text>
<rect x="141.40" y="496.70" width="4.20" height="4.20" fill="#b9c8bf"/>
<text x="147.40" y="500.70" font-size="5.6" text-anchor="start" fill="#444" class="lt">0 µmol/L (DMSO)</text>
<rect x="141.40" y="504.15" width="4.20" height="4.20" fill="#93cfa0"/>
<text x="147.40" y="508.15" font-size="5.6" text-anchor="start" fill="#444" class="lt">0.1 µmol/L</text>
<rect x="141.40" y="511.60" width="4.20" height="4.20" fill="#5e8c69"/>
<text x="147.40" y="515.60" font-size="5.6" text-anchor="start" fill="#444" class="lt">0.5 µmol/L</text>
<rect x="141.40" y="519.05" width="4.20" height="4.20" fill="#27474a"/>
<text x="147.40" y="523.05" font-size="5.6" text-anchor="start" fill="#444" class="lt">1 µmol/L</text>
<rect x="195.20" y="485.20" width="25.10" height="10.80" fill="#b5b5b5"/>
<rect x="220.20" y="485.20" width="25.90" height="10.80" fill="#98d3a2"/>
<rect x="246.00" y="485.20" width="26.10" height="10.80" fill="#5f8f6b"/>
<rect x="272.00" y="485.20" width="26.20" height="10.80" fill="#274b4d"/>
<rect x="195.20" y="499.00" width="25.15" height="11.90" fill="#2a78bc"/>
<rect x="220.20" y="499.00" width="25.95" height="11.90" fill="#fbe2d5"/>
<rect x="246.00" y="499.00" width="26.15" height="11.90" fill="#f3f0ef"/>
<rect x="272.00" y="499.00" width="26.25" height="11.90" fill="#e3edf4"/>
<rect x="195.20" y="510.75" width="25.15" height="11.90" fill="#4b95c8"/>
<rect x="220.20" y="510.75" width="25.95" height="11.90" fill="#d6e6f1"/>
<rect x="246.00" y="510.75" width="26.15" height="11.90" fill="#d6e6f1"/>
<rect x="272.00" y="510.75" width="26.25" height="11.90" fill="#d9e8f2"/>
<rect x="195.20" y="522.50" width="25.15" height="11.90" fill="#1e68b0"/>
<rect x="220.20" y="522.50" width="25.95" height="11.90" fill="#f19878"/>
<rect x="246.00" y="522.50" width="26.15" height="11.90" fill="#f08d6c"/>
<rect x="272.00" y="522.50" width="26.25" height="11.90" fill="#ef8f6e"/>
<rect x="195.20" y="534.25" width="25.15" height="11.90" fill="#13508f"/>
<rect x="220.20" y="534.25" width="25.95" height="11.90" fill="#fae7dc"/>
<rect x="246.00" y="534.25" width="26.15" height="11.90" fill="#f9b99c"/>
<rect x="272.00" y="534.25" width="26.25" height="11.90" fill="#e77a5f"/>
<rect x="195.20" y="546.00" width="25.15" height="11.90" fill="#123a72"/>
<rect x="220.20" y="546.00" width="25.95" height="11.90" fill="#f4f0ee"/>
<rect x="246.00" y="546.00" width="26.15" height="11.90" fill="#fbd8c5"/>
<rect x="272.00" y="546.00" width="26.25" height="11.90" fill="#ea8466"/>
<rect x="195.20" y="557.75" width="25.15" height="11.90" fill="#5fa5d1"/>
<rect x="220.20" y="557.75" width="25.95" height="11.90" fill="#e8785d"/>
<rect x="246.00" y="557.75" width="26.15" height="11.90" fill="#e8785d"/>
<rect x="272.00" y="557.75" width="26.25" height="11.90" fill="#ad1429"/>
<rect x="195.20" y="569.50" width="25.15" height="11.90" fill="#1c63aa"/>
<rect x="220.20" y="569.50" width="25.95" height="11.90" fill="#fae5d8"/>
<rect x="246.00" y="569.50" width="26.15" height="11.90" fill="#f5a787"/>
<rect x="272.00" y="569.50" width="26.25" height="11.90" fill="#cf4b42"/>
<rect x="195.20" y="581.25" width="25.15" height="11.90" fill="#144f92"/>
<rect x="220.20" y="581.25" width="25.95" height="11.90" fill="#fae5d8"/>
<rect x="246.00" y="581.25" width="26.15" height="11.90" fill="#f19776"/>
<rect x="272.00" y="581.25" width="26.25" height="11.90" fill="#de6752"/>
<circle cx="233.50" cy="528.58" r="0.82" fill="#4a2018"/>
<circle cx="235.90" cy="528.58" r="0.82" fill="#4a2018"/>
<circle cx="259.40" cy="528.58" r="0.82" fill="#4a2018"/>
<circle cx="261.80" cy="528.58" r="0.82" fill="#4a2018"/>
<circle cx="286.65" cy="528.58" r="0.82" fill="#4a2018"/>
<circle cx="234.70" cy="540.33" r="0.82" fill="#4a2018"/>
<circle cx="260.60" cy="540.33" r="0.82" fill="#4a2018"/>
<circle cx="234.70" cy="552.08" r="0.82" fill="#4a2018"/>
<circle cx="260.60" cy="552.08" r="0.82" fill="#4a2018"/>
<circle cx="234.70" cy="563.83" r="0.82" fill="#4a2018"/>
<circle cx="260.60" cy="563.83" r="0.82" fill="#4a2018"/>
<circle cx="234.70" cy="575.58" r="0.82" fill="#4a2018"/>
<circle cx="260.60" cy="575.58" r="0.82" fill="#4a2018"/>
<circle cx="286.65" cy="575.58" r="0.82" fill="#4a2018"/>
<circle cx="234.70" cy="587.33" r="0.82" fill="#4a2018"/>
<circle cx="259.40" cy="587.33" r="0.82" fill="#4a2018"/>
<circle cx="261.80" cy="587.33" r="0.82" fill="#4a2018"/>
<circle cx="286.65" cy="587.33" r="0.82" fill="#4a2018"/>
<text x="302.60" y="509.00" font-size="7.3" text-anchor="start" fill="#1a1a1a">TAP1</text>
<text x="302.60" y="520.69" font-size="7.3" text-anchor="start" fill="#1a1a1a">TAP2</text>
<text x="302.60" y="532.38" font-size="7.3" text-anchor="start" fill="#1a1a1a">TAPBP</text>
<text x="302.60" y="544.07" font-size="7.3" text-anchor="start" fill="#1a1a1a">PSMB8</text>
<text x="302.60" y="555.76" font-size="7.3" text-anchor="start" fill="#1a1a1a">PSMB9</text>
<text x="302.60" y="567.45" font-size="7.3" text-anchor="start" fill="#1a1a1a">PSMB10</text>
<text x="302.60" y="579.14" font-size="7.3" text-anchor="start" fill="#1a1a1a">PSME1</text>
<text x="302.60" y="590.83" font-size="7.3" text-anchor="start" fill="#1a1a1a">PSME2</text>
<text x="192.80" y="551.20" font-size="7.1" text-anchor="middle" fill="#1a1a1a" transform="rotate(-90 192.80 551.20)">Cross-presentation</text>
</g>
</svg>
</body></html>
